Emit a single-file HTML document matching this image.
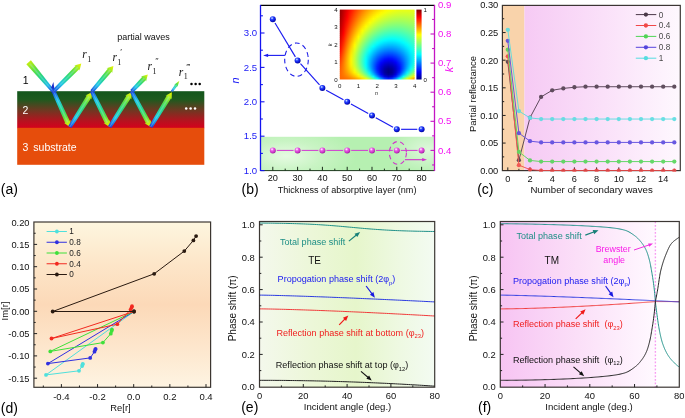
<!DOCTYPE html>
<html><head><meta charset="utf-8"><title>Figure</title>
<style>html,body{margin:0;padding:0;background:#fff}svg{display:block}text{font-family:"Liberation Sans",sans-serif}</style></head><body>
<svg width="685" height="418" viewBox="0 0 685 418">
<defs>
<linearGradient id="lay2" x1="0" y1="0" x2="0" y2="1"><stop offset="0" stop-color="#13561c"/><stop offset="0.22" stop-color="#1d5a1e"/><stop offset="0.5" stop-color="#6a3a22"/><stop offset="0.8" stop-color="#b5131f"/><stop offset="1" stop-color="#d6001c"/></linearGradient>
<radialGradient id="bb" cx="0.38" cy="0.32" r="0.7"><stop offset="0" stop-color="#e8eeff"/><stop offset="0.12" stop-color="#9db4ff"/><stop offset="0.32" stop-color="#2a48ff"/><stop offset="0.7" stop-color="#0a14d8"/><stop offset="1" stop-color="#050a90"/></radialGradient>
<radialGradient id="mb" cx="0.38" cy="0.32" r="0.7"><stop offset="0" stop-color="#fff0ff"/><stop offset="0.14" stop-color="#ffc0ff"/><stop offset="0.36" stop-color="#e860e4"/><stop offset="0.75" stop-color="#cc34c8"/><stop offset="1" stop-color="#9a2098"/></radialGradient>
<radialGradient id="gband" gradientUnits="userSpaceOnUse" cx="286" cy="156" r="70" gradientTransform="translate(286 156) scale(1 0.42) translate(-286 -156)"><stop offset="0" stop-color="#e6fbe2"/><stop offset="0.5" stop-color="#c9f4c4"/><stop offset="1" stop-color="#b6f0b1"/></radialGradient>
<radialGradient id="gband2" gradientUnits="userSpaceOnUse" cx="428" cy="150" r="40" gradientTransform="translate(428 150) scale(1 0.6) translate(-428 -150)"><stop offset="0" stop-color="#fff" stop-opacity="0.55"/><stop offset="1" stop-color="#fff" stop-opacity="0"/></radialGradient>
<linearGradient id="cpink" x1="0" y1="0" x2="1" y2="0"><stop offset="0" stop-color="#f6caf4"/><stop offset="0.5" stop-color="#fae0f9"/><stop offset="1" stop-color="#fef8fe"/></linearGradient>
<linearGradient id="dbg" x1="0" y1="0" x2="0" y2="1"><stop offset="0" stop-color="#fdf6df"/><stop offset="0.25" stop-color="#fde6c9"/><stop offset="0.5" stop-color="#fcd9b8"/><stop offset="0.75" stop-color="#fde6cc"/><stop offset="1" stop-color="#fef4e2"/></linearGradient>
<linearGradient id="ebg" x1="0" y1="0" x2="1" y2="0"><stop offset="0" stop-color="#f4f8ec"/><stop offset="0.3" stop-color="#ecf7d8"/><stop offset="0.55" stop-color="#e6f6cb"/><stop offset="0.8" stop-color="#eef9e2"/><stop offset="1" stop-color="#f3fbf2"/></linearGradient>
<linearGradient id="fbg" x1="0" y1="0" x2="1" y2="0"><stop offset="0" stop-color="#f7c4f3"/><stop offset="0.5" stop-color="#fbdff8"/><stop offset="1" stop-color="#fff9ff"/></linearGradient>
<linearGradient id="jetbar" x1="0" y1="1" x2="0" y2="0"><stop offset="0" stop-color="#00007f"/><stop offset="0.11" stop-color="#0000ff"/><stop offset="0.36" stop-color="#00ffff"/><stop offset="0.5" stop-color="#7fff7f"/><stop offset="0.64" stop-color="#ffff00"/><stop offset="0.89" stop-color="#ff0000"/><stop offset="1" stop-color="#7f0000"/></linearGradient>
</defs>
<rect width="685" height="418" fill="#fff"/>
<g id="pa">
<rect x="17.2" y="91.2" width="187.1" height="37" fill="url(#lay2)"/>
<rect x="17.2" y="127.8" width="187.1" height="37" fill="#e64d0c"/>
<linearGradient id="ag1" gradientUnits="userSpaceOnUse" x1="28.6" y1="62.2" x2="53.2" y2="91.4"><stop offset="0" stop-color="#c4ee10"/><stop offset="0.25" stop-color="#5fe03a"/><stop offset="0.52" stop-color="#22d38a"/><stop offset="0.78" stop-color="#1fbce4"/><stop offset="0.93" stop-color="#1c68e6"/><stop offset="1" stop-color="#1a38d4"/></linearGradient>
<polygon points="26.31,64.13 51.9,92.5 54.5,90.3 30.89,60.27" fill="url(#ag1)"/>
<polygon points="29.2,64.31 52.82,91.72 53.58,91.08 30.58,63.15" fill="#aef4ff" opacity="0.28"/>
<polygon points="53.4,82 54.6,90.5 51.2,87.6" fill="#1a2cc8"/>
<linearGradient id="ag2" gradientUnits="userSpaceOnUse" x1="53.6" y1="91.4" x2="69.8" y2="127"><stop offset="0" stop-color="#1a3ad8"/><stop offset="0.1" stop-color="#1c78e8"/><stop offset="0.27" stop-color="#1fc6e4"/><stop offset="0.5" stop-color="#25d888"/><stop offset="0.72" stop-color="#5fe03c"/><stop offset="0.88" stop-color="#b4ee18"/><stop offset="1" stop-color="#f4f400"/></linearGradient>
<polygon points="51.87,92.19 65.25,123.03 63.82,122.8 69.8,127 70.56,119.73 69.8,120.96 55.33,90.61" fill="url(#ag2)"/>
<polygon points="53.14,91.61 66.91,122.82 68.55,122.08 54.06,91.19" fill="#aef4ff" opacity="0.28"/>
<linearGradient id="ag3" gradientUnits="userSpaceOnUse" x1="69.8" y1="127" x2="91.8" y2="92.2"><stop offset="0" stop-color="#1a3ad8"/><stop offset="0.1" stop-color="#1c78e8"/><stop offset="0.27" stop-color="#1fc6e4"/><stop offset="0.5" stop-color="#25d888"/><stop offset="0.72" stop-color="#5fe03c"/><stop offset="0.88" stop-color="#b4ee18"/><stop offset="1" stop-color="#f4f400"/></linearGradient>
<polygon points="71.41,128.02 90.97,98.18 91.56,99.5 91.8,92.2 85.31,95.55 86.75,95.51 68.19,125.98" fill="url(#ag3)"/>
<polygon points="70.22,127.27 89.89,96.91 88.37,95.95 69.38,126.73" fill="#aef4ff" opacity="0.28"/>
<linearGradient id="ag4" gradientUnits="userSpaceOnUse" x1="91.8" y1="91.4" x2="109.6" y2="127"><stop offset="0" stop-color="#1a3ad8"/><stop offset="0.1" stop-color="#1c78e8"/><stop offset="0.27" stop-color="#1fc6e4"/><stop offset="0.5" stop-color="#25d888"/><stop offset="0.72" stop-color="#5fe03c"/><stop offset="0.88" stop-color="#b4ee18"/><stop offset="1" stop-color="#f4f400"/></linearGradient>
<polygon points="90.1,92.25 104.9,123.2 103.47,123.02 109.6,127 110.09,119.71 109.38,120.96 93.5,90.55" fill="url(#ag4)"/>
<polygon points="91.35,91.62 106.56,122.93 108.17,122.13 92.25,91.18" fill="#aef4ff" opacity="0.28"/>
<linearGradient id="ag5" gradientUnits="userSpaceOnUse" x1="109.6" y1="127" x2="131.6" y2="92.2"><stop offset="0" stop-color="#1a3ad8"/><stop offset="0.1" stop-color="#1c78e8"/><stop offset="0.27" stop-color="#1fc6e4"/><stop offset="0.5" stop-color="#25d888"/><stop offset="0.72" stop-color="#5fe03c"/><stop offset="0.88" stop-color="#b4ee18"/><stop offset="1" stop-color="#f4f400"/></linearGradient>
<polygon points="111.21,128.02 130.77,98.18 131.36,99.5 131.6,92.2 125.11,95.55 126.55,95.51 107.99,125.98" fill="url(#ag5)"/>
<polygon points="110.02,127.27 129.69,96.91 128.17,95.95 109.18,126.73" fill="#aef4ff" opacity="0.28"/>
<linearGradient id="ag6" gradientUnits="userSpaceOnUse" x1="131.6" y1="91.4" x2="150.7" y2="127"><stop offset="0" stop-color="#1a3ad8"/><stop offset="0.1" stop-color="#1c78e8"/><stop offset="0.27" stop-color="#1fc6e4"/><stop offset="0.5" stop-color="#25d888"/><stop offset="0.72" stop-color="#5fe03c"/><stop offset="0.88" stop-color="#b4ee18"/><stop offset="1" stop-color="#f4f400"/></linearGradient>
<polygon points="129.93,92.3 145.9,123.34 144.46,123.2 150.7,127 150.98,119.7 150.3,120.97 133.27,90.5" fill="url(#ag6)"/>
<polygon points="131.16,91.64 147.54,123.02 149.13,122.17 132.04,91.16" fill="#aef4ff" opacity="0.28"/>
<linearGradient id="ag7" gradientUnits="userSpaceOnUse" x1="150.7" y1="127" x2="171.8" y2="92.2"><stop offset="0" stop-color="#1a3ad8"/><stop offset="0.1" stop-color="#1c78e8"/><stop offset="0.27" stop-color="#1fc6e4"/><stop offset="0.5" stop-color="#25d888"/><stop offset="0.72" stop-color="#5fe03c"/><stop offset="0.88" stop-color="#b4ee18"/><stop offset="1" stop-color="#f4f400"/></linearGradient>
<polygon points="152.32,127.99 171.09,98.2 171.7,99.51 171.8,92.2 165.37,95.67 166.81,95.61 149.08,126.01" fill="url(#ag7)"/>
<polygon points="151.13,127.26 169.98,96.94 168.44,96.01 150.27,126.74" fill="#aef4ff" opacity="0.28"/>
<linearGradient id="ag8" gradientUnits="userSpaceOnUse" x1="53.6" y1="91.4" x2="81.3" y2="63.6"><stop offset="0" stop-color="#1a3ad8"/><stop offset="0.1" stop-color="#1c78e8"/><stop offset="0.27" stop-color="#1fc6e4"/><stop offset="0.5" stop-color="#25d888"/><stop offset="0.72" stop-color="#5fe03c"/><stop offset="0.88" stop-color="#b4ee18"/><stop offset="1" stop-color="#f4f400"/></linearGradient>
<polygon points="54.95,92.74 79.19,69.26 79.47,70.67 81.3,63.6 74.23,65.45 75.65,65.73 52.25,90.06" fill="url(#ag8)"/>
<polygon points="53.95,91.75 78.41,67.78 77.13,66.51 53.25,91.05" fill="#aef4ff" opacity="0.28"/>
<linearGradient id="ag9" gradientUnits="userSpaceOnUse" x1="91.8" y1="91.4" x2="113.4" y2="65.9"><stop offset="0" stop-color="#1a3ad8"/><stop offset="0.1" stop-color="#1c78e8"/><stop offset="0.27" stop-color="#1fc6e4"/><stop offset="0.5" stop-color="#25d888"/><stop offset="0.72" stop-color="#5fe03c"/><stop offset="0.88" stop-color="#b4ee18"/><stop offset="1" stop-color="#f4f400"/></linearGradient>
<polygon points="93.25,92.63 111.75,71.71 112.15,73.1 113.4,65.9 106.5,68.32 107.94,68.48 90.35,90.17" fill="url(#ag9)"/>
<polygon points="92.18,91.72 110.86,70.3 109.48,69.13 91.42,91.08" fill="#aef4ff" opacity="0.28"/>
<linearGradient id="ag10" gradientUnits="userSpaceOnUse" x1="131.6" y1="91.4" x2="147.8" y2="74.5"><stop offset="0" stop-color="#1a3ad8"/><stop offset="0.1" stop-color="#1c78e8"/><stop offset="0.27" stop-color="#1fc6e4"/><stop offset="0.5" stop-color="#25d888"/><stop offset="0.72" stop-color="#5fe03c"/><stop offset="0.88" stop-color="#b4ee18"/><stop offset="1" stop-color="#f4f400"/></linearGradient>
<polygon points="132.94,92.68 145.75,80.16 146.05,81.55 147.8,74.5 140.83,76.55 142.23,76.78 130.26,90.12" fill="url(#ag10)"/>
<polygon points="131.96,91.75 144.99,78.73 143.69,77.49 131.24,91.05" fill="#aef4ff" opacity="0.28"/>
<linearGradient id="ag11" gradientUnits="userSpaceOnUse" x1="171.8" y1="91.4" x2="179.4" y2="80.8"><stop offset="0" stop-color="#1a3ad8"/><stop offset="0.1" stop-color="#1c78e8"/><stop offset="0.27" stop-color="#1fc6e4"/><stop offset="0.5" stop-color="#25d888"/><stop offset="0.72" stop-color="#5fe03c"/><stop offset="0.88" stop-color="#b4ee18"/><stop offset="1" stop-color="#f4f400"/></linearGradient>
<polygon points="172.65,92.01 177.33,86.05 177.4,87.09 179.4,80.8 174.09,84.72 175.09,84.45 170.95,90.79" fill="url(#ag11)"/>
<polygon points="172.21,91.69 177.22,85.39 175.76,84.34 171.39,91.11" fill="#aef4ff" opacity="0.28"/>
<text x="22.8" y="84" font-size="10.5" fill="#000" text-anchor="start">1</text>
<text x="22.4" y="114" font-size="10.5" fill="#fff" text-anchor="start">2</text>
<text x="22.4" y="150.8" font-size="10.5" fill="#fff" text-anchor="start" word-spacing="2.2">3 substrate</text>
<text x="117.2" y="40" font-size="9" fill="#111" text-anchor="start">partial waves</text>
<text x="82.3" y="58.3" font-size="11.5" font-style="italic" fill="#111" style="font-family:'Liberation Serif',serif">r<tspan font-size="8" font-style="normal" dx="0.4" dy="3.8">1</tspan><tspan font-size="8.5" dx="-1.6" dy="-9.8"></tspan></text>
<text x="112.4" y="61" font-size="11.5" font-style="italic" fill="#111" style="font-family:'Liberation Serif',serif">r<tspan font-size="8" font-style="normal" dx="0.4" dy="3.8">1</tspan><tspan font-size="8.5" dx="-1.6" dy="-9.8">′</tspan></text>
<text x="147.5" y="70" font-size="11.5" font-style="italic" fill="#111" style="font-family:'Liberation Serif',serif">r<tspan font-size="8" font-style="normal" dx="0.4" dy="3.8">1</tspan><tspan font-size="8.5" dx="-1.6" dy="-9.8">″</tspan></text>
<text x="178.8" y="75.5" font-size="11.5" font-style="italic" fill="#111" style="font-family:'Liberation Serif',serif">r<tspan font-size="8" font-style="normal" dx="0.4" dy="3.8">1</tspan><tspan font-size="8.5" dx="-1.6" dy="-9.8">‴</tspan></text>
<circle cx="191.5" cy="83.9" r="1.25" fill="#000"/>
<circle cx="195.6" cy="83.9" r="1.25" fill="#000"/>
<circle cx="199.7" cy="83.9" r="1.25" fill="#000"/>
<circle cx="186.2" cy="108.6" r="1.25" fill="#fff"/>
<circle cx="190.6" cy="108.6" r="1.25" fill="#fff"/>
<circle cx="195" cy="108.6" r="1.25" fill="#fff"/>
<text x="0.8" y="194" font-size="14" fill="#000" text-anchor="start">(a)</text>
</g>
<g id="pb">
<rect x="260.5" y="136.8" width="174.0" height="33.8" fill="url(#gband)"/>
<rect x="260.5" y="136.8" width="174.0" height="33.8" fill="url(#gband2)"/>
<linearGradient id="h0"><stop offset="0" stop-color="#950000"/><stop offset="0.05" stop-color="#bf0000"/><stop offset="0.1" stop-color="#ea0000"/><stop offset="0.15" stop-color="#ff1400"/><stop offset="0.2" stop-color="#ff3900"/><stop offset="0.25" stop-color="#ff5c00"/><stop offset="0.3" stop-color="#ff7b00"/><stop offset="0.35" stop-color="#ff9700"/><stop offset="0.4" stop-color="#ffb100"/><stop offset="0.45" stop-color="#ffc700"/><stop offset="0.5" stop-color="#ffda00"/><stop offset="0.55" stop-color="#ffeb00"/><stop offset="0.6" stop-color="#fff900"/><stop offset="0.65" stop-color="#faff05"/><stop offset="0.7" stop-color="#f2ff0d"/><stop offset="0.75" stop-color="#ebff14"/><stop offset="0.8" stop-color="#e7ff18"/><stop offset="0.85" stop-color="#e5ff1a"/><stop offset="0.9" stop-color="#e5ff1a"/><stop offset="0.95" stop-color="#e6ff19"/><stop offset="1" stop-color="#e8ff17"/></linearGradient>
<rect x="339.8" y="9.6" width="74.8" height="2.5" fill="url(#h0)"/>
<linearGradient id="h1"><stop offset="0" stop-color="#970000"/><stop offset="0.05" stop-color="#c30000"/><stop offset="0.1" stop-color="#f00000"/><stop offset="0.15" stop-color="#ff1b00"/><stop offset="0.2" stop-color="#ff4200"/><stop offset="0.25" stop-color="#ff6500"/><stop offset="0.3" stop-color="#ff8600"/><stop offset="0.35" stop-color="#ffa300"/><stop offset="0.4" stop-color="#ffbd00"/><stop offset="0.45" stop-color="#ffd400"/><stop offset="0.5" stop-color="#ffe700"/><stop offset="0.55" stop-color="#fff800"/><stop offset="0.6" stop-color="#f8ff07"/><stop offset="0.65" stop-color="#edff12"/><stop offset="0.7" stop-color="#e5ff1a"/><stop offset="0.75" stop-color="#dfff20"/><stop offset="0.8" stop-color="#dbff24"/><stop offset="0.85" stop-color="#daff25"/><stop offset="0.9" stop-color="#daff25"/><stop offset="0.95" stop-color="#dcff23"/><stop offset="1" stop-color="#dfff20"/></linearGradient>
<rect x="339.8" y="11.6" width="74.8" height="2.5" fill="url(#h1)"/>
<linearGradient id="h2"><stop offset="0" stop-color="#990000"/><stop offset="0.05" stop-color="#c70000"/><stop offset="0.1" stop-color="#f60000"/><stop offset="0.15" stop-color="#ff2300"/><stop offset="0.2" stop-color="#ff4b00"/><stop offset="0.25" stop-color="#ff7000"/><stop offset="0.3" stop-color="#ff9100"/><stop offset="0.35" stop-color="#ffaf00"/><stop offset="0.4" stop-color="#ffca00"/><stop offset="0.45" stop-color="#ffe100"/><stop offset="0.5" stop-color="#fff500"/><stop offset="0.55" stop-color="#f8ff07"/><stop offset="0.6" stop-color="#eaff15"/><stop offset="0.65" stop-color="#dfff20"/><stop offset="0.7" stop-color="#d7ff28"/><stop offset="0.75" stop-color="#d2ff2d"/><stop offset="0.8" stop-color="#cfff30"/><stop offset="0.85" stop-color="#ceff31"/><stop offset="0.9" stop-color="#cfff30"/><stop offset="0.95" stop-color="#d1ff2e"/><stop offset="1" stop-color="#d5ff2a"/></linearGradient>
<rect x="339.8" y="13.59" width="74.8" height="2.5" fill="url(#h2)"/>
<linearGradient id="h3"><stop offset="0" stop-color="#9c0000"/><stop offset="0.05" stop-color="#cb0000"/><stop offset="0.1" stop-color="#fc0000"/><stop offset="0.15" stop-color="#ff2b00"/><stop offset="0.2" stop-color="#ff5400"/><stop offset="0.25" stop-color="#ff7a00"/><stop offset="0.3" stop-color="#ff9d00"/><stop offset="0.35" stop-color="#ffbb00"/><stop offset="0.4" stop-color="#ffd700"/><stop offset="0.45" stop-color="#ffef00"/><stop offset="0.5" stop-color="#fbff04"/><stop offset="0.55" stop-color="#eaff15"/><stop offset="0.6" stop-color="#dcff23"/><stop offset="0.65" stop-color="#d1ff2e"/><stop offset="0.7" stop-color="#c9ff36"/><stop offset="0.75" stop-color="#c4ff3b"/><stop offset="0.8" stop-color="#c2ff3d"/><stop offset="0.85" stop-color="#c1ff3e"/><stop offset="0.9" stop-color="#c3ff3c"/><stop offset="0.95" stop-color="#c6ff39"/><stop offset="1" stop-color="#cbff34"/></linearGradient>
<rect x="339.8" y="15.59" width="74.8" height="2.5" fill="url(#h3)"/>
<linearGradient id="h4"><stop offset="0" stop-color="#9f0000"/><stop offset="0.05" stop-color="#d00000"/><stop offset="0.1" stop-color="#ff0400"/><stop offset="0.15" stop-color="#ff3300"/><stop offset="0.2" stop-color="#ff5e00"/><stop offset="0.25" stop-color="#ff8500"/><stop offset="0.3" stop-color="#ffa900"/><stop offset="0.35" stop-color="#ffc800"/><stop offset="0.4" stop-color="#ffe500"/><stop offset="0.45" stop-color="#fffd00"/><stop offset="0.5" stop-color="#ecff13"/><stop offset="0.55" stop-color="#dbff24"/><stop offset="0.6" stop-color="#cdff32"/><stop offset="0.65" stop-color="#c2ff3d"/><stop offset="0.7" stop-color="#bbff44"/><stop offset="0.75" stop-color="#b6ff49"/><stop offset="0.8" stop-color="#b4ff4b"/><stop offset="0.85" stop-color="#b5ff4a"/><stop offset="0.9" stop-color="#b7ff48"/><stop offset="0.95" stop-color="#bcff43"/><stop offset="1" stop-color="#c1ff3e"/></linearGradient>
<rect x="339.8" y="17.59" width="74.8" height="2.5" fill="url(#h4)"/>
<linearGradient id="h5"><stop offset="0" stop-color="#a20000"/><stop offset="0.05" stop-color="#d50000"/><stop offset="0.1" stop-color="#ff0b00"/><stop offset="0.15" stop-color="#ff3c00"/><stop offset="0.2" stop-color="#ff6800"/><stop offset="0.25" stop-color="#ff9100"/><stop offset="0.3" stop-color="#ffb500"/><stop offset="0.35" stop-color="#ffd600"/><stop offset="0.4" stop-color="#fff300"/><stop offset="0.45" stop-color="#f2ff0d"/><stop offset="0.5" stop-color="#ddff22"/><stop offset="0.55" stop-color="#cbff34"/><stop offset="0.6" stop-color="#bdff42"/><stop offset="0.65" stop-color="#b3ff4c"/><stop offset="0.7" stop-color="#acff53"/><stop offset="0.75" stop-color="#a8ff57"/><stop offset="0.8" stop-color="#a6ff59"/><stop offset="0.85" stop-color="#a8ff57"/><stop offset="0.9" stop-color="#abff54"/><stop offset="0.95" stop-color="#b0ff4f"/><stop offset="1" stop-color="#b7ff48"/></linearGradient>
<rect x="339.8" y="19.59" width="74.8" height="2.5" fill="url(#h5)"/>
<linearGradient id="h6"><stop offset="0" stop-color="#a50000"/><stop offset="0.05" stop-color="#db0000"/><stop offset="0.1" stop-color="#ff1300"/><stop offset="0.15" stop-color="#ff4500"/><stop offset="0.2" stop-color="#ff7300"/><stop offset="0.25" stop-color="#ff9d00"/><stop offset="0.3" stop-color="#ffc300"/><stop offset="0.35" stop-color="#ffe400"/><stop offset="0.4" stop-color="#fcff03"/><stop offset="0.45" stop-color="#e3ff1c"/><stop offset="0.5" stop-color="#cdff32"/><stop offset="0.55" stop-color="#bbff44"/><stop offset="0.6" stop-color="#adff52"/><stop offset="0.65" stop-color="#a3ff5c"/><stop offset="0.7" stop-color="#9cff63"/><stop offset="0.75" stop-color="#99ff66"/><stop offset="0.8" stop-color="#98ff67"/><stop offset="0.85" stop-color="#9aff65"/><stop offset="0.9" stop-color="#9fff60"/><stop offset="0.95" stop-color="#a5ff5a"/><stop offset="1" stop-color="#adff52"/></linearGradient>
<rect x="339.8" y="21.58" width="74.8" height="2.5" fill="url(#h6)"/>
<linearGradient id="h7"><stop offset="0" stop-color="#a90000"/><stop offset="0.05" stop-color="#e10000"/><stop offset="0.1" stop-color="#ff1b00"/><stop offset="0.15" stop-color="#ff4f00"/><stop offset="0.2" stop-color="#ff7e00"/><stop offset="0.25" stop-color="#ffa900"/><stop offset="0.3" stop-color="#ffd000"/><stop offset="0.35" stop-color="#fff300"/><stop offset="0.4" stop-color="#edff12"/><stop offset="0.45" stop-color="#d3ff2c"/><stop offset="0.5" stop-color="#bcff43"/><stop offset="0.55" stop-color="#aaff55"/><stop offset="0.6" stop-color="#9cff63"/><stop offset="0.65" stop-color="#92ff6d"/><stop offset="0.7" stop-color="#8cff73"/><stop offset="0.75" stop-color="#89ff76"/><stop offset="0.8" stop-color="#89ff76"/><stop offset="0.85" stop-color="#8cff73"/><stop offset="0.9" stop-color="#92ff6d"/><stop offset="0.95" stop-color="#99ff66"/><stop offset="1" stop-color="#a2ff5d"/></linearGradient>
<rect x="339.8" y="23.58" width="74.8" height="2.5" fill="url(#h7)"/>
<linearGradient id="h8"><stop offset="0" stop-color="#ae0000"/><stop offset="0.05" stop-color="#e70000"/><stop offset="0.1" stop-color="#ff2300"/><stop offset="0.15" stop-color="#ff5900"/><stop offset="0.2" stop-color="#ff8a00"/><stop offset="0.25" stop-color="#ffb600"/><stop offset="0.3" stop-color="#ffde00"/><stop offset="0.35" stop-color="#fcff03"/><stop offset="0.4" stop-color="#ddff22"/><stop offset="0.45" stop-color="#c2ff3d"/><stop offset="0.5" stop-color="#abff54"/><stop offset="0.55" stop-color="#99ff66"/><stop offset="0.6" stop-color="#8bff74"/><stop offset="0.65" stop-color="#81ff7e"/><stop offset="0.7" stop-color="#7bff84"/><stop offset="0.75" stop-color="#79ff86"/><stop offset="0.8" stop-color="#7aff85"/><stop offset="0.85" stop-color="#7eff81"/><stop offset="0.9" stop-color="#85ff7a"/><stop offset="0.95" stop-color="#8dff72"/><stop offset="1" stop-color="#98ff67"/></linearGradient>
<rect x="339.8" y="25.58" width="74.8" height="2.5" fill="url(#h8)"/>
<linearGradient id="h9"><stop offset="0" stop-color="#b20000"/><stop offset="0.05" stop-color="#ee0000"/><stop offset="0.1" stop-color="#ff2c00"/><stop offset="0.15" stop-color="#ff6300"/><stop offset="0.2" stop-color="#ff9600"/><stop offset="0.25" stop-color="#ffc300"/><stop offset="0.3" stop-color="#ffed00"/><stop offset="0.35" stop-color="#edff12"/><stop offset="0.4" stop-color="#ccff33"/><stop offset="0.45" stop-color="#b1ff4e"/><stop offset="0.5" stop-color="#99ff66"/><stop offset="0.55" stop-color="#87ff78"/><stop offset="0.6" stop-color="#79ff86"/><stop offset="0.65" stop-color="#6fff90"/><stop offset="0.7" stop-color="#6aff95"/><stop offset="0.75" stop-color="#68ff97"/><stop offset="0.8" stop-color="#6aff95"/><stop offset="0.85" stop-color="#6fff90"/><stop offset="0.9" stop-color="#77ff88"/><stop offset="0.95" stop-color="#81ff7e"/><stop offset="1" stop-color="#8dff72"/></linearGradient>
<rect x="339.8" y="27.57" width="74.8" height="2.5" fill="url(#h9)"/>
<linearGradient id="h10"><stop offset="0" stop-color="#b70000"/><stop offset="0.05" stop-color="#f50000"/><stop offset="0.1" stop-color="#ff3500"/><stop offset="0.15" stop-color="#ff6e00"/><stop offset="0.2" stop-color="#ffa200"/><stop offset="0.25" stop-color="#ffd100"/><stop offset="0.3" stop-color="#fffc00"/><stop offset="0.35" stop-color="#ddff22"/><stop offset="0.4" stop-color="#bbff44"/><stop offset="0.45" stop-color="#9fff60"/><stop offset="0.5" stop-color="#87ff78"/><stop offset="0.55" stop-color="#74ff8b"/><stop offset="0.6" stop-color="#66ff99"/><stop offset="0.65" stop-color="#5cffa3"/><stop offset="0.7" stop-color="#57ffa8"/><stop offset="0.75" stop-color="#57ffa8"/><stop offset="0.8" stop-color="#5affa5"/><stop offset="0.85" stop-color="#60ff9f"/><stop offset="0.9" stop-color="#6aff95"/><stop offset="0.95" stop-color="#75ff8a"/><stop offset="1" stop-color="#82ff7d"/></linearGradient>
<rect x="339.8" y="29.57" width="74.8" height="2.5" fill="url(#h10)"/>
<linearGradient id="h11"><stop offset="0" stop-color="#bd0000"/><stop offset="0.05" stop-color="#fc0000"/><stop offset="0.1" stop-color="#ff3e00"/><stop offset="0.15" stop-color="#ff7900"/><stop offset="0.2" stop-color="#ffae00"/><stop offset="0.25" stop-color="#ffdf00"/><stop offset="0.3" stop-color="#f3ff0c"/><stop offset="0.35" stop-color="#ccff33"/><stop offset="0.4" stop-color="#aaff55"/><stop offset="0.45" stop-color="#8dff72"/><stop offset="0.5" stop-color="#74ff8b"/><stop offset="0.55" stop-color="#61ff9e"/><stop offset="0.6" stop-color="#52ffad"/><stop offset="0.65" stop-color="#49ffb6"/><stop offset="0.7" stop-color="#45ffba"/><stop offset="0.75" stop-color="#45ffba"/><stop offset="0.8" stop-color="#49ffb6"/><stop offset="0.85" stop-color="#51ffae"/><stop offset="0.9" stop-color="#5cffa3"/><stop offset="0.95" stop-color="#69ff96"/><stop offset="1" stop-color="#78ff87"/></linearGradient>
<rect x="339.8" y="31.57" width="74.8" height="2.5" fill="url(#h11)"/>
<linearGradient id="h12"><stop offset="0" stop-color="#c30000"/><stop offset="0.05" stop-color="#ff0500"/><stop offset="0.1" stop-color="#ff4800"/><stop offset="0.15" stop-color="#ff8400"/><stop offset="0.2" stop-color="#ffbb00"/><stop offset="0.25" stop-color="#ffed00"/><stop offset="0.3" stop-color="#e4ff1b"/><stop offset="0.35" stop-color="#bbff44"/><stop offset="0.4" stop-color="#98ff67"/><stop offset="0.45" stop-color="#7aff85"/><stop offset="0.5" stop-color="#61ff9e"/><stop offset="0.55" stop-color="#4dffb2"/><stop offset="0.6" stop-color="#3effc1"/><stop offset="0.65" stop-color="#35ffca"/><stop offset="0.7" stop-color="#31ffce"/><stop offset="0.75" stop-color="#32ffcd"/><stop offset="0.8" stop-color="#38ffc7"/><stop offset="0.85" stop-color="#41ffbe"/><stop offset="0.9" stop-color="#4dffb2"/><stop offset="0.95" stop-color="#5cffa3"/><stop offset="1" stop-color="#6dff92"/></linearGradient>
<rect x="339.8" y="33.57" width="74.8" height="2.5" fill="url(#h12)"/>
<linearGradient id="h13"><stop offset="0" stop-color="#c90000"/><stop offset="0.05" stop-color="#ff0e00"/><stop offset="0.1" stop-color="#ff5200"/><stop offset="0.15" stop-color="#ff8f00"/><stop offset="0.2" stop-color="#ffc800"/><stop offset="0.25" stop-color="#fffb00"/><stop offset="0.3" stop-color="#d4ff2b"/><stop offset="0.35" stop-color="#aaff55"/><stop offset="0.4" stop-color="#86ff79"/><stop offset="0.45" stop-color="#66ff99"/><stop offset="0.5" stop-color="#4cffb3"/><stop offset="0.55" stop-color="#38ffc7"/><stop offset="0.6" stop-color="#29ffd6"/><stop offset="0.65" stop-color="#21ffde"/><stop offset="0.7" stop-color="#1dffe2"/><stop offset="0.75" stop-color="#1fffe0"/><stop offset="0.8" stop-color="#26ffd9"/><stop offset="0.85" stop-color="#31ffce"/><stop offset="0.9" stop-color="#3fffc0"/><stop offset="0.95" stop-color="#50ffaf"/><stop offset="1" stop-color="#62ff9d"/></linearGradient>
<rect x="339.8" y="35.56" width="74.8" height="2.5" fill="url(#h13)"/>
<linearGradient id="h14"><stop offset="0" stop-color="#d00000"/><stop offset="0.05" stop-color="#ff1600"/><stop offset="0.1" stop-color="#ff5c00"/><stop offset="0.15" stop-color="#ff9b00"/><stop offset="0.2" stop-color="#ffd500"/><stop offset="0.25" stop-color="#f4ff0b"/><stop offset="0.3" stop-color="#c4ff3b"/><stop offset="0.35" stop-color="#99ff66"/><stop offset="0.4" stop-color="#73ff8c"/><stop offset="0.45" stop-color="#53ffac"/><stop offset="0.5" stop-color="#38ffc7"/><stop offset="0.55" stop-color="#23ffdc"/><stop offset="0.6" stop-color="#14ffeb"/><stop offset="0.65" stop-color="#0bfff4"/><stop offset="0.7" stop-color="#08fff7"/><stop offset="0.75" stop-color="#0cfff3"/><stop offset="0.8" stop-color="#14ffeb"/><stop offset="0.85" stop-color="#20ffdf"/><stop offset="0.9" stop-color="#30ffcf"/><stop offset="0.95" stop-color="#43ffbc"/><stop offset="1" stop-color="#58ffa7"/></linearGradient>
<rect x="339.8" y="37.56" width="74.8" height="2.5" fill="url(#h14)"/>
<linearGradient id="h15"><stop offset="0" stop-color="#d80000"/><stop offset="0.05" stop-color="#ff1f00"/><stop offset="0.1" stop-color="#ff6600"/><stop offset="0.15" stop-color="#ffa600"/><stop offset="0.2" stop-color="#ffe200"/><stop offset="0.25" stop-color="#e6ff19"/><stop offset="0.3" stop-color="#b5ff4a"/><stop offset="0.35" stop-color="#88ff77"/><stop offset="0.4" stop-color="#61ff9e"/><stop offset="0.45" stop-color="#3fffc0"/><stop offset="0.5" stop-color="#22ffdd"/><stop offset="0.55" stop-color="#0dfff2"/><stop offset="0.6" stop-color="#00fcff"/><stop offset="0.65" stop-color="#00f4ff"/><stop offset="0.7" stop-color="#00f2ff"/><stop offset="0.75" stop-color="#00f6ff"/><stop offset="0.8" stop-color="#01fffe"/><stop offset="0.85" stop-color="#0ffff0"/><stop offset="0.9" stop-color="#22ffdd"/><stop offset="0.95" stop-color="#37ffc8"/><stop offset="1" stop-color="#4dffb2"/></linearGradient>
<rect x="339.8" y="39.56" width="74.8" height="2.5" fill="url(#h15)"/>
<linearGradient id="h16"><stop offset="0" stop-color="#e00000"/><stop offset="0.05" stop-color="#ff2800"/><stop offset="0.1" stop-color="#ff7000"/><stop offset="0.15" stop-color="#ffb200"/><stop offset="0.2" stop-color="#ffee00"/><stop offset="0.25" stop-color="#d8ff27"/><stop offset="0.3" stop-color="#a5ff5a"/><stop offset="0.35" stop-color="#77ff88"/><stop offset="0.4" stop-color="#4effb1"/><stop offset="0.45" stop-color="#2affd5"/><stop offset="0.5" stop-color="#0dfff2"/><stop offset="0.55" stop-color="#00f5ff"/><stop offset="0.6" stop-color="#00e5ff"/><stop offset="0.65" stop-color="#00ddff"/><stop offset="0.7" stop-color="#00dcff"/><stop offset="0.75" stop-color="#00e1ff"/><stop offset="0.8" stop-color="#00edff"/><stop offset="0.85" stop-color="#00fdff"/><stop offset="0.9" stop-color="#13ffec"/><stop offset="0.95" stop-color="#2affd5"/><stop offset="1" stop-color="#44ffbb"/></linearGradient>
<rect x="339.8" y="41.55" width="74.8" height="2.5" fill="url(#h16)"/>
<linearGradient id="h17"><stop offset="0" stop-color="#e80000"/><stop offset="0.05" stop-color="#ff3100"/><stop offset="0.1" stop-color="#ff7a00"/><stop offset="0.15" stop-color="#ffbd00"/><stop offset="0.2" stop-color="#fffa00"/><stop offset="0.25" stop-color="#caff35"/><stop offset="0.3" stop-color="#96ff69"/><stop offset="0.35" stop-color="#66ff99"/><stop offset="0.4" stop-color="#3bffc4"/><stop offset="0.45" stop-color="#16ffe9"/><stop offset="0.5" stop-color="#00f6ff"/><stop offset="0.55" stop-color="#00deff"/><stop offset="0.6" stop-color="#00ceff"/><stop offset="0.65" stop-color="#00c5ff"/><stop offset="0.7" stop-color="#00c5ff"/><stop offset="0.75" stop-color="#00ccff"/><stop offset="0.8" stop-color="#00d9ff"/><stop offset="0.85" stop-color="#00ecff"/><stop offset="0.9" stop-color="#04fffb"/><stop offset="0.95" stop-color="#1effe1"/><stop offset="1" stop-color="#3affc5"/></linearGradient>
<rect x="339.8" y="43.55" width="74.8" height="2.5" fill="url(#h17)"/>
<linearGradient id="h18"><stop offset="0" stop-color="#f10000"/><stop offset="0.05" stop-color="#ff3a00"/><stop offset="0.1" stop-color="#ff8400"/><stop offset="0.15" stop-color="#ffc700"/><stop offset="0.2" stop-color="#f8ff07"/><stop offset="0.25" stop-color="#bdff42"/><stop offset="0.3" stop-color="#87ff78"/><stop offset="0.35" stop-color="#55ffaa"/><stop offset="0.4" stop-color="#28ffd7"/><stop offset="0.45" stop-color="#01fffe"/><stop offset="0.5" stop-color="#00dfff"/><stop offset="0.55" stop-color="#00c6ff"/><stop offset="0.6" stop-color="#00b5ff"/><stop offset="0.65" stop-color="#00adff"/><stop offset="0.7" stop-color="#00adff"/><stop offset="0.75" stop-color="#00b5ff"/><stop offset="0.8" stop-color="#00c5ff"/><stop offset="0.85" stop-color="#00daff"/><stop offset="0.9" stop-color="#00f4ff"/><stop offset="0.95" stop-color="#12ffed"/><stop offset="1" stop-color="#31ffce"/></linearGradient>
<rect x="339.8" y="45.55" width="74.8" height="2.5" fill="url(#h18)"/>
<linearGradient id="h19"><stop offset="0" stop-color="#fa0000"/><stop offset="0.05" stop-color="#ff4400"/><stop offset="0.1" stop-color="#ff8d00"/><stop offset="0.15" stop-color="#ffd100"/><stop offset="0.2" stop-color="#edff12"/><stop offset="0.25" stop-color="#b1ff4e"/><stop offset="0.3" stop-color="#79ff86"/><stop offset="0.35" stop-color="#45ffba"/><stop offset="0.4" stop-color="#16ffe9"/><stop offset="0.45" stop-color="#00ebff"/><stop offset="0.5" stop-color="#00c9ff"/><stop offset="0.55" stop-color="#00aeff"/><stop offset="0.6" stop-color="#009cff"/><stop offset="0.65" stop-color="#0094ff"/><stop offset="0.7" stop-color="#0095ff"/><stop offset="0.75" stop-color="#009fff"/><stop offset="0.8" stop-color="#00b0ff"/><stop offset="0.85" stop-color="#00c9ff"/><stop offset="0.9" stop-color="#00e6ff"/><stop offset="0.95" stop-color="#07fff8"/><stop offset="1" stop-color="#29ffd6"/></linearGradient>
<rect x="339.8" y="47.55" width="74.8" height="2.5" fill="url(#h19)"/>
<linearGradient id="h20"><stop offset="0" stop-color="#ff0500"/><stop offset="0.05" stop-color="#ff4d00"/><stop offset="0.1" stop-color="#ff9600"/><stop offset="0.15" stop-color="#ffdb00"/><stop offset="0.2" stop-color="#e3ff1c"/><stop offset="0.25" stop-color="#a6ff59"/><stop offset="0.3" stop-color="#6cff93"/><stop offset="0.35" stop-color="#35ffca"/><stop offset="0.4" stop-color="#04fffb"/><stop offset="0.45" stop-color="#00d7ff"/><stop offset="0.5" stop-color="#00b2ff"/><stop offset="0.55" stop-color="#0095ff"/><stop offset="0.6" stop-color="#0083ff"/><stop offset="0.65" stop-color="#007aff"/><stop offset="0.7" stop-color="#007cff"/><stop offset="0.75" stop-color="#0087ff"/><stop offset="0.8" stop-color="#009cff"/><stop offset="0.85" stop-color="#00b7ff"/><stop offset="0.9" stop-color="#00d8ff"/><stop offset="0.95" stop-color="#00fbff"/><stop offset="1" stop-color="#22ffdd"/></linearGradient>
<rect x="339.8" y="49.54" width="74.8" height="2.5" fill="url(#h20)"/>
<linearGradient id="h21"><stop offset="0" stop-color="#ff0f00"/><stop offset="0.05" stop-color="#ff5500"/><stop offset="0.1" stop-color="#ff9e00"/><stop offset="0.15" stop-color="#ffe300"/><stop offset="0.2" stop-color="#daff25"/><stop offset="0.25" stop-color="#9bff64"/><stop offset="0.3" stop-color="#60ff9f"/><stop offset="0.35" stop-color="#27ffd8"/><stop offset="0.4" stop-color="#00f2ff"/><stop offset="0.45" stop-color="#00c3ff"/><stop offset="0.5" stop-color="#009bff"/><stop offset="0.55" stop-color="#007dff"/><stop offset="0.6" stop-color="#0068ff"/><stop offset="0.65" stop-color="#005fff"/><stop offset="0.7" stop-color="#0062ff"/><stop offset="0.75" stop-color="#0070ff"/><stop offset="0.8" stop-color="#0087ff"/><stop offset="0.85" stop-color="#00a6ff"/><stop offset="0.9" stop-color="#00caff"/><stop offset="0.95" stop-color="#00f2ff"/><stop offset="1" stop-color="#1cffe3"/></linearGradient>
<rect x="339.8" y="51.54" width="74.8" height="2.5" fill="url(#h21)"/>
<linearGradient id="h22"><stop offset="0" stop-color="#ff1900"/><stop offset="0.05" stop-color="#ff5e00"/><stop offset="0.1" stop-color="#ffa600"/><stop offset="0.15" stop-color="#ffea00"/><stop offset="0.2" stop-color="#d3ff2c"/><stop offset="0.25" stop-color="#93ff6c"/><stop offset="0.3" stop-color="#55ffaa"/><stop offset="0.35" stop-color="#1affe5"/><stop offset="0.4" stop-color="#00e2ff"/><stop offset="0.45" stop-color="#00b0ff"/><stop offset="0.5" stop-color="#0085ff"/><stop offset="0.55" stop-color="#0064ff"/><stop offset="0.6" stop-color="#004eff"/><stop offset="0.65" stop-color="#0044ff"/><stop offset="0.7" stop-color="#0048ff"/><stop offset="0.75" stop-color="#0058ff"/><stop offset="0.8" stop-color="#0072ff"/><stop offset="0.85" stop-color="#0095ff"/><stop offset="0.9" stop-color="#00beff"/><stop offset="0.95" stop-color="#00e9ff"/><stop offset="1" stop-color="#17ffe8"/></linearGradient>
<rect x="339.8" y="53.54" width="74.8" height="2.5" fill="url(#h22)"/>
<linearGradient id="h23"><stop offset="0" stop-color="#ff2200"/><stop offset="0.05" stop-color="#ff6600"/><stop offset="0.1" stop-color="#ffac00"/><stop offset="0.15" stop-color="#ffef00"/><stop offset="0.2" stop-color="#cdff32"/><stop offset="0.25" stop-color="#8cff73"/><stop offset="0.3" stop-color="#4dffb2"/><stop offset="0.35" stop-color="#0ffff0"/><stop offset="0.4" stop-color="#00d3ff"/><stop offset="0.45" stop-color="#009eff"/><stop offset="0.5" stop-color="#006fff"/><stop offset="0.55" stop-color="#004bff"/><stop offset="0.6" stop-color="#0033ff"/><stop offset="0.65" stop-color="#0029ff"/><stop offset="0.7" stop-color="#002dff"/><stop offset="0.75" stop-color="#0040ff"/><stop offset="0.8" stop-color="#005eff"/><stop offset="0.85" stop-color="#0085ff"/><stop offset="0.9" stop-color="#00b2ff"/><stop offset="0.95" stop-color="#00e3ff"/><stop offset="1" stop-color="#15ffea"/></linearGradient>
<rect x="339.8" y="55.53" width="74.8" height="2.5" fill="url(#h23)"/>
<linearGradient id="h24"><stop offset="0" stop-color="#ff2c00"/><stop offset="0.05" stop-color="#ff6d00"/><stop offset="0.1" stop-color="#ffb100"/><stop offset="0.15" stop-color="#fff300"/><stop offset="0.2" stop-color="#c9ff36"/><stop offset="0.25" stop-color="#88ff77"/><stop offset="0.3" stop-color="#47ffb8"/><stop offset="0.35" stop-color="#06fff9"/><stop offset="0.4" stop-color="#00c7ff"/><stop offset="0.45" stop-color="#008dff"/><stop offset="0.5" stop-color="#005bff"/><stop offset="0.55" stop-color="#0033ff"/><stop offset="0.6" stop-color="#0018ff"/><stop offset="0.65" stop-color="#000dff"/><stop offset="0.7" stop-color="#0013ff"/><stop offset="0.75" stop-color="#0028ff"/><stop offset="0.8" stop-color="#004aff"/><stop offset="0.85" stop-color="#0077ff"/><stop offset="0.9" stop-color="#00a9ff"/><stop offset="0.95" stop-color="#00deff"/><stop offset="1" stop-color="#14ffeb"/></linearGradient>
<rect x="339.8" y="57.53" width="74.8" height="2.5" fill="url(#h24)"/>
<linearGradient id="h25"><stop offset="0" stop-color="#ff3600"/><stop offset="0.05" stop-color="#ff7300"/><stop offset="0.1" stop-color="#ffb400"/><stop offset="0.15" stop-color="#fff500"/><stop offset="0.2" stop-color="#c8ff37"/><stop offset="0.25" stop-color="#86ff79"/><stop offset="0.3" stop-color="#43ffbc"/><stop offset="0.35" stop-color="#00ffff"/><stop offset="0.4" stop-color="#00bdff"/><stop offset="0.45" stop-color="#007fff"/><stop offset="0.5" stop-color="#0048ff"/><stop offset="0.55" stop-color="#001bff"/><stop offset="0.6" stop-color="#0000fd"/><stop offset="0.65" stop-color="#0000f0"/><stop offset="0.7" stop-color="#0000f7"/><stop offset="0.75" stop-color="#0010ff"/><stop offset="0.8" stop-color="#0038ff"/><stop offset="0.85" stop-color="#006aff"/><stop offset="0.9" stop-color="#00a2ff"/><stop offset="0.95" stop-color="#00ddff"/><stop offset="1" stop-color="#17ffe8"/></linearGradient>
<rect x="339.8" y="59.53" width="74.8" height="2.5" fill="url(#h25)"/>
<linearGradient id="h26"><stop offset="0" stop-color="#ff3f00"/><stop offset="0.05" stop-color="#ff7800"/><stop offset="0.1" stop-color="#ffb600"/><stop offset="0.15" stop-color="#fff400"/><stop offset="0.2" stop-color="#caff35"/><stop offset="0.25" stop-color="#88ff77"/><stop offset="0.3" stop-color="#43ffbc"/><stop offset="0.35" stop-color="#00fdff"/><stop offset="0.4" stop-color="#00b7ff"/><stop offset="0.45" stop-color="#0073ff"/><stop offset="0.5" stop-color="#0037ff"/><stop offset="0.55" stop-color="#0005ff"/><stop offset="0.6" stop-color="#0000e3"/><stop offset="0.65" stop-color="#0000d5"/><stop offset="0.7" stop-color="#0000dd"/><stop offset="0.75" stop-color="#0000f9"/><stop offset="0.8" stop-color="#0027ff"/><stop offset="0.85" stop-color="#005fff"/><stop offset="0.9" stop-color="#009eff"/><stop offset="0.95" stop-color="#00dfff"/><stop offset="1" stop-color="#1effe1"/></linearGradient>
<rect x="339.8" y="61.53" width="74.8" height="2.5" fill="url(#h26)"/>
<linearGradient id="h27"><stop offset="0" stop-color="#ff4700"/><stop offset="0.05" stop-color="#ff7c00"/><stop offset="0.1" stop-color="#ffb600"/><stop offset="0.15" stop-color="#fff200"/><stop offset="0.2" stop-color="#ceff31"/><stop offset="0.25" stop-color="#8dff72"/><stop offset="0.3" stop-color="#48ffb7"/><stop offset="0.35" stop-color="#00feff"/><stop offset="0.4" stop-color="#00b4ff"/><stop offset="0.45" stop-color="#006cff"/><stop offset="0.5" stop-color="#0029ff"/><stop offset="0.55" stop-color="#0000f1"/><stop offset="0.6" stop-color="#0000cb"/><stop offset="0.65" stop-color="#0000bc"/><stop offset="0.7" stop-color="#0000c5"/><stop offset="0.75" stop-color="#0000e5"/><stop offset="0.8" stop-color="#0019ff"/><stop offset="0.85" stop-color="#0059ff"/><stop offset="0.9" stop-color="#009fff"/><stop offset="0.95" stop-color="#00e5ff"/><stop offset="1" stop-color="#29ffd6"/></linearGradient>
<rect x="339.8" y="63.52" width="74.8" height="2.5" fill="url(#h27)"/>
<linearGradient id="h28"><stop offset="0" stop-color="#ff4f00"/><stop offset="0.05" stop-color="#ff7e00"/><stop offset="0.1" stop-color="#ffb400"/><stop offset="0.15" stop-color="#ffec00"/><stop offset="0.2" stop-color="#d6ff29"/><stop offset="0.25" stop-color="#96ff69"/><stop offset="0.3" stop-color="#51ffae"/><stop offset="0.35" stop-color="#06fff9"/><stop offset="0.4" stop-color="#00b8ff"/><stop offset="0.45" stop-color="#006aff"/><stop offset="0.5" stop-color="#0020ff"/><stop offset="0.55" stop-color="#0000e1"/><stop offset="0.6" stop-color="#0000b6"/><stop offset="0.65" stop-color="#0000a4"/><stop offset="0.7" stop-color="#0000af"/><stop offset="0.75" stop-color="#0000d4"/><stop offset="0.8" stop-color="#0010ff"/><stop offset="0.85" stop-color="#0058ff"/><stop offset="0.9" stop-color="#00a5ff"/><stop offset="0.95" stop-color="#00f1ff"/><stop offset="1" stop-color="#3affc5"/></linearGradient>
<rect x="339.8" y="65.52" width="74.8" height="2.5" fill="url(#h28)"/>
<linearGradient id="h29"><stop offset="0" stop-color="#ff5600"/><stop offset="0.05" stop-color="#ff7f00"/><stop offset="0.1" stop-color="#ffb000"/><stop offset="0.15" stop-color="#ffe300"/><stop offset="0.2" stop-color="#e2ff1d"/><stop offset="0.25" stop-color="#a4ff5b"/><stop offset="0.3" stop-color="#5fffa0"/><stop offset="0.35" stop-color="#14ffeb"/><stop offset="0.4" stop-color="#00c2ff"/><stop offset="0.45" stop-color="#006eff"/><stop offset="0.5" stop-color="#001eff"/><stop offset="0.55" stop-color="#0000d7"/><stop offset="0.6" stop-color="#0000a5"/><stop offset="0.65" stop-color="#000090"/><stop offset="0.7" stop-color="#00009d"/><stop offset="0.75" stop-color="#0000c8"/><stop offset="0.8" stop-color="#000cff"/><stop offset="0.85" stop-color="#005dff"/><stop offset="0.9" stop-color="#00b2ff"/><stop offset="0.95" stop-color="#06fff9"/><stop offset="1" stop-color="#51ffae"/></linearGradient>
<rect x="339.8" y="67.52" width="74.8" height="2.5" fill="url(#h29)"/>
<linearGradient id="h30"><stop offset="0" stop-color="#ff5b00"/><stop offset="0.05" stop-color="#ff7f00"/><stop offset="0.1" stop-color="#ffa900"/><stop offset="0.15" stop-color="#ffd800"/><stop offset="0.2" stop-color="#f2ff0d"/><stop offset="0.25" stop-color="#b7ff48"/><stop offset="0.3" stop-color="#74ff8b"/><stop offset="0.35" stop-color="#29ffd6"/><stop offset="0.4" stop-color="#00d4ff"/><stop offset="0.45" stop-color="#007cff"/><stop offset="0.5" stop-color="#0024ff"/><stop offset="0.55" stop-color="#0000d4"/><stop offset="0.6" stop-color="#00009b"/><stop offset="0.65" stop-color="#000083"/><stop offset="0.7" stop-color="#000092"/><stop offset="0.75" stop-color="#0000c4"/><stop offset="0.8" stop-color="#0012ff"/><stop offset="0.85" stop-color="#006dff"/><stop offset="0.9" stop-color="#00caff"/><stop offset="0.95" stop-color="#22ffdd"/><stop offset="1" stop-color="#70ff8f"/></linearGradient>
<rect x="339.8" y="69.51" width="74.8" height="2.5" fill="url(#h30)"/>
<linearGradient id="h31"><stop offset="0" stop-color="#ff6000"/><stop offset="0.05" stop-color="#ff7d00"/><stop offset="0.1" stop-color="#ffa000"/><stop offset="0.15" stop-color="#ffc900"/><stop offset="0.2" stop-color="#fff700"/><stop offset="0.25" stop-color="#d0ff2f"/><stop offset="0.3" stop-color="#90ff6f"/><stop offset="0.35" stop-color="#46ffb9"/><stop offset="0.4" stop-color="#00f1ff"/><stop offset="0.45" stop-color="#0095ff"/><stop offset="0.5" stop-color="#0036ff"/><stop offset="0.55" stop-color="#0000de"/><stop offset="0.6" stop-color="#00009d"/><stop offset="0.65" stop-color="#000081"/><stop offset="0.7" stop-color="#000091"/><stop offset="0.75" stop-color="#0000cc"/><stop offset="0.8" stop-color="#0025ff"/><stop offset="0.85" stop-color="#008aff"/><stop offset="0.9" stop-color="#00eeff"/><stop offset="0.95" stop-color="#4affb5"/><stop offset="1" stop-color="#99ff66"/></linearGradient>
<rect x="339.8" y="71.51" width="74.8" height="2.5" fill="url(#h31)"/>
<linearGradient id="h32"><stop offset="0" stop-color="#ff6300"/><stop offset="0.05" stop-color="#ff7900"/><stop offset="0.1" stop-color="#ff9500"/><stop offset="0.15" stop-color="#ffb600"/><stop offset="0.2" stop-color="#ffde00"/><stop offset="0.25" stop-color="#efff10"/><stop offset="0.3" stop-color="#b5ff4a"/><stop offset="0.35" stop-color="#6fff90"/><stop offset="0.4" stop-color="#1dffe2"/><stop offset="0.45" stop-color="#00beff"/><stop offset="0.5" stop-color="#005aff"/><stop offset="0.55" stop-color="#0000f9"/><stop offset="0.6" stop-color="#0000af"/><stop offset="0.65" stop-color="#00008f"/><stop offset="0.7" stop-color="#0000a3"/><stop offset="0.75" stop-color="#0000e7"/><stop offset="0.8" stop-color="#004bff"/><stop offset="0.85" stop-color="#00b9ff"/><stop offset="0.9" stop-color="#23ffdc"/><stop offset="0.95" stop-color="#80ff7f"/><stop offset="1" stop-color="#ceff31"/></linearGradient>
<rect x="339.8" y="73.51" width="74.8" height="2.5" fill="url(#h32)"/>
<linearGradient id="h33"><stop offset="0" stop-color="#ff6500"/><stop offset="0.05" stop-color="#ff7300"/><stop offset="0.1" stop-color="#ff8700"/><stop offset="0.15" stop-color="#ffa100"/><stop offset="0.2" stop-color="#ffc100"/><stop offset="0.25" stop-color="#ffe900"/><stop offset="0.3" stop-color="#e2ff1d"/><stop offset="0.35" stop-color="#a4ff5b"/><stop offset="0.4" stop-color="#57ffa8"/><stop offset="0.45" stop-color="#00fbff"/><stop offset="0.5" stop-color="#0096ff"/><stop offset="0.55" stop-color="#0030ff"/><stop offset="0.6" stop-color="#0000de"/><stop offset="0.65" stop-color="#0000b9"/><stop offset="0.7" stop-color="#0000d1"/><stop offset="0.75" stop-color="#0020ff"/><stop offset="0.8" stop-color="#008eff"/><stop offset="0.85" stop-color="#03fffc"/><stop offset="0.9" stop-color="#6dff92"/><stop offset="0.95" stop-color="#c7ff38"/><stop offset="1" stop-color="#ffee00"/></linearGradient>
<rect x="339.8" y="75.51" width="74.8" height="2.5" fill="url(#h33)"/>
<linearGradient id="h34"><stop offset="0" stop-color="#ff6600"/><stop offset="0.05" stop-color="#ff6c00"/><stop offset="0.1" stop-color="#ff7700"/><stop offset="0.15" stop-color="#ff8800"/><stop offset="0.2" stop-color="#ff9e00"/><stop offset="0.25" stop-color="#ffbd00"/><stop offset="0.3" stop-color="#ffe400"/><stop offset="0.35" stop-color="#e6ff19"/><stop offset="0.4" stop-color="#a5ff5a"/><stop offset="0.45" stop-color="#53ffac"/><stop offset="0.5" stop-color="#00f2ff"/><stop offset="0.55" stop-color="#008eff"/><stop offset="0.6" stop-color="#0039ff"/><stop offset="0.65" stop-color="#0013ff"/><stop offset="0.7" stop-color="#002fff"/><stop offset="0.75" stop-color="#0087ff"/><stop offset="0.8" stop-color="#00fbff"/><stop offset="0.85" stop-color="#6fff90"/><stop offset="0.9" stop-color="#d3ff2c"/><stop offset="0.95" stop-color="#ffdb00"/><stop offset="1" stop-color="#ff9e00"/></linearGradient>
<rect x="339.8" y="77.5" width="74.8" height="2" fill="url(#h34)"/>
<rect x="416.4" y="9.6" width="5.2" height="69.9" fill="url(#jetbar)"/>
<text x="339.8" y="87.9" font-size="6.1" fill="#111" text-anchor="middle">0</text>
<text x="337.6" y="81.7" font-size="6.1" fill="#111" text-anchor="end">0</text>
<text x="358.5" y="87.9" font-size="6.1" fill="#111" text-anchor="middle">1</text>
<text x="337.6" y="64.22" font-size="6.1" fill="#111" text-anchor="end">1</text>
<text x="377.2" y="87.9" font-size="6.1" fill="#111" text-anchor="middle">2</text>
<text x="337.6" y="46.75" font-size="6.1" fill="#111" text-anchor="end">2</text>
<text x="395.9" y="87.9" font-size="6.1" fill="#111" text-anchor="middle">3</text>
<text x="337.6" y="29.27" font-size="6.1" fill="#111" text-anchor="end">3</text>
<text x="414.6" y="87.9" font-size="6.1" fill="#111" text-anchor="middle">4</text>
<text x="337.6" y="11.8" font-size="6.1" fill="#111" text-anchor="end">4</text>
<text x="425.2" y="12.2" font-size="6.1" fill="#111" text-anchor="middle">1</text>
<text x="425.2" y="81.9" font-size="6.1" fill="#111" text-anchor="middle">0</text>
<text x="376.5" y="94.5" font-size="5.2" fill="#111" text-anchor="middle" font-style="italic">n</text>
<text transform="translate(331.5,44.8) rotate(-90)" font-size="5.2" fill="#111" text-anchor="middle" font-style="italic">k</text>
<line x1="260.5" y1="5.4" x2="434.5" y2="5.4" stroke="#000" stroke-width="1.1"/>
<line x1="260.5" y1="170.6" x2="434.5" y2="170.6" stroke="#1e3a1e" stroke-width="1"/>
<line x1="260.5" y1="4.9" x2="260.5" y2="171" stroke="#1414f0" stroke-width="1.3"/>
<line x1="434.5" y1="4.9" x2="434.5" y2="171" stroke="#c414c4" stroke-width="1.3"/>
<line x1="260.5" y1="170.6" x2="264.5" y2="170.6" stroke="#1414f0" stroke-width="1.1"/>
<text x="257.2" y="173.7" font-size="9.6" fill="#1a1af5" text-anchor="end">1.0</text>
<line x1="260.5" y1="153.4" x2="262.9" y2="153.4" stroke="#1414f0" stroke-width="1.1"/>
<line x1="260.5" y1="136.2" x2="264.5" y2="136.2" stroke="#1414f0" stroke-width="1.1"/>
<text x="257.2" y="139.3" font-size="9.6" fill="#1a1af5" text-anchor="end">1.5</text>
<line x1="260.5" y1="119" x2="262.9" y2="119" stroke="#1414f0" stroke-width="1.1"/>
<line x1="260.5" y1="101.8" x2="264.5" y2="101.8" stroke="#1414f0" stroke-width="1.1"/>
<text x="257.2" y="104.9" font-size="9.6" fill="#1a1af5" text-anchor="end">2.0</text>
<line x1="260.5" y1="84.6" x2="262.9" y2="84.6" stroke="#1414f0" stroke-width="1.1"/>
<line x1="260.5" y1="67.4" x2="264.5" y2="67.4" stroke="#1414f0" stroke-width="1.1"/>
<text x="257.2" y="70.5" font-size="9.6" fill="#1a1af5" text-anchor="end">2.5</text>
<line x1="260.5" y1="50.2" x2="262.9" y2="50.2" stroke="#1414f0" stroke-width="1.1"/>
<line x1="260.5" y1="33" x2="264.5" y2="33" stroke="#1414f0" stroke-width="1.1"/>
<text x="257.2" y="36.1" font-size="9.6" fill="#1a1af5" text-anchor="end">3.0</text>
<line x1="260.5" y1="15.8" x2="262.9" y2="15.8" stroke="#1414f0" stroke-width="1.1"/>
<line x1="434.5" y1="164.95" x2="432.1" y2="164.95" stroke="#c414c4" stroke-width="1.1"/>
<line x1="434.5" y1="150.4" x2="430.5" y2="150.4" stroke="#c414c4" stroke-width="1.1"/>
<text x="438" y="153.5" font-size="9.6" fill="#f212f2" text-anchor="start">0.4</text>
<line x1="434.5" y1="135.85" x2="432.1" y2="135.85" stroke="#c414c4" stroke-width="1.1"/>
<line x1="434.5" y1="121.3" x2="430.5" y2="121.3" stroke="#c414c4" stroke-width="1.1"/>
<text x="438" y="124.4" font-size="9.6" fill="#f212f2" text-anchor="start">0.5</text>
<line x1="434.5" y1="106.75" x2="432.1" y2="106.75" stroke="#c414c4" stroke-width="1.1"/>
<line x1="434.5" y1="92.2" x2="430.5" y2="92.2" stroke="#c414c4" stroke-width="1.1"/>
<text x="438" y="95.3" font-size="9.6" fill="#f212f2" text-anchor="start">0.6</text>
<line x1="434.5" y1="77.65" x2="432.1" y2="77.65" stroke="#c414c4" stroke-width="1.1"/>
<line x1="434.5" y1="63.1" x2="430.5" y2="63.1" stroke="#c414c4" stroke-width="1.1"/>
<text x="438" y="66.2" font-size="9.6" fill="#f212f2" text-anchor="start">0.7</text>
<line x1="434.5" y1="48.55" x2="432.1" y2="48.55" stroke="#c414c4" stroke-width="1.1"/>
<line x1="434.5" y1="34" x2="430.5" y2="34" stroke="#c414c4" stroke-width="1.1"/>
<text x="438" y="37.1" font-size="9.6" fill="#f212f2" text-anchor="start">0.8</text>
<line x1="434.5" y1="19.45" x2="432.1" y2="19.45" stroke="#c414c4" stroke-width="1.1"/>
<text x="438" y="8" font-size="9.6" fill="#f212f2" text-anchor="start">0.9</text>
<line x1="272.8" y1="170.6" x2="272.8" y2="166.8" stroke="#1a2a1a" stroke-width="1"/>
<text x="272.8" y="181" font-size="9.2" fill="#111" text-anchor="middle">20</text>
<line x1="285.2" y1="170.6" x2="285.2" y2="168.6" stroke="#1a2a1a" stroke-width="1"/>
<line x1="297.6" y1="170.6" x2="297.6" y2="166.8" stroke="#1a2a1a" stroke-width="1"/>
<text x="297.6" y="181" font-size="9.2" fill="#111" text-anchor="middle">30</text>
<line x1="310" y1="170.6" x2="310" y2="168.6" stroke="#1a2a1a" stroke-width="1"/>
<line x1="322.4" y1="170.6" x2="322.4" y2="166.8" stroke="#1a2a1a" stroke-width="1"/>
<text x="322.4" y="181" font-size="9.2" fill="#111" text-anchor="middle">40</text>
<line x1="334.8" y1="170.6" x2="334.8" y2="168.6" stroke="#1a2a1a" stroke-width="1"/>
<line x1="347.2" y1="170.6" x2="347.2" y2="166.8" stroke="#1a2a1a" stroke-width="1"/>
<text x="347.2" y="181" font-size="9.2" fill="#111" text-anchor="middle">50</text>
<line x1="359.6" y1="170.6" x2="359.6" y2="168.6" stroke="#1a2a1a" stroke-width="1"/>
<line x1="372" y1="170.6" x2="372" y2="166.8" stroke="#1a2a1a" stroke-width="1"/>
<text x="372" y="181" font-size="9.2" fill="#111" text-anchor="middle">60</text>
<line x1="384.4" y1="170.6" x2="384.4" y2="168.6" stroke="#1a2a1a" stroke-width="1"/>
<line x1="396.8" y1="170.6" x2="396.8" y2="166.8" stroke="#1a2a1a" stroke-width="1"/>
<text x="396.8" y="181" font-size="9.2" fill="#111" text-anchor="middle">70</text>
<line x1="409.2" y1="170.6" x2="409.2" y2="168.6" stroke="#1a2a1a" stroke-width="1"/>
<line x1="421.6" y1="170.6" x2="421.6" y2="166.8" stroke="#1a2a1a" stroke-width="1"/>
<text x="421.6" y="181" font-size="9.2" fill="#111" text-anchor="middle">80</text>
<text transform="translate(239.4,80.5) rotate(-90)" font-size="11" fill="#1a1af5" text-anchor="middle" font-style="italic">n</text>
<text transform="translate(453.2,69.5) rotate(-90)" font-size="11" fill="#f212f2" text-anchor="middle" font-style="italic">k</text>
<line x1="275.01" y1="22.93" x2="295.39" y2="56.83" stroke="#1a1af0" stroke-width="1.15"/>
<line x1="300.48" y1="63.71" x2="319.52" y2="84.85" stroke="#1a1af0" stroke-width="1.15"/>
<line x1="326.16" y1="90.13" x2="343.44" y2="99.71" stroke="#1a1af0" stroke-width="1.15"/>
<line x1="350.96" y1="103.89" x2="368.24" y2="113.47" stroke="#1a1af0" stroke-width="1.15"/>
<line x1="375.76" y1="117.65" x2="393.04" y2="127.23" stroke="#1a1af0" stroke-width="1.15"/>
<line x1="401.1" y1="129.32" x2="417.3" y2="129.32" stroke="#1a1af0" stroke-width="1.15"/>
<circle cx="272.8" cy="19.24" r="3" fill="url(#bb)"/>
<circle cx="297.6" cy="60.52" r="3" fill="url(#bb)"/>
<circle cx="322.4" cy="88.04" r="3" fill="url(#bb)"/>
<circle cx="347.2" cy="101.8" r="3" fill="url(#bb)"/>
<circle cx="372" cy="115.56" r="3" fill="url(#bb)"/>
<circle cx="396.8" cy="129.32" r="3" fill="url(#bb)"/>
<circle cx="421.6" cy="129.32" r="3" fill="url(#bb)"/>
<line x1="276.8" y1="150.4" x2="293.6" y2="150.4" stroke="#d23ad0" stroke-width="1"/>
<line x1="301.6" y1="150.4" x2="318.4" y2="150.4" stroke="#d23ad0" stroke-width="1"/>
<line x1="326.4" y1="150.4" x2="343.2" y2="150.4" stroke="#d23ad0" stroke-width="1"/>
<line x1="351.2" y1="150.4" x2="368" y2="150.4" stroke="#d23ad0" stroke-width="1"/>
<line x1="376" y1="150.4" x2="392.8" y2="150.4" stroke="#d23ad0" stroke-width="1"/>
<line x1="400.8" y1="150.4" x2="417.6" y2="150.4" stroke="#d23ad0" stroke-width="1"/>
<circle cx="272.8" cy="150.4" r="3" fill="url(#mb)"/>
<circle cx="297.6" cy="150.4" r="3" fill="url(#mb)"/>
<circle cx="322.4" cy="150.4" r="3" fill="url(#mb)"/>
<circle cx="347.2" cy="150.4" r="3" fill="url(#mb)"/>
<circle cx="372" cy="150.4" r="3" fill="url(#mb)"/>
<circle cx="396.8" cy="150.4" r="3" fill="url(#mb)"/>
<circle cx="421.6" cy="150.4" r="3" fill="url(#mb)"/>
<ellipse cx="296.5" cy="59.7" rx="11.8" ry="16.7" fill="none" stroke="#2020e8" stroke-width="1.1" stroke-dasharray="4.8 3.4"/>
<line x1="284.9" y1="55.4" x2="267.1" y2="55.4" stroke="#1a1af0" stroke-width="1.1"/>
<polygon points="263.1,55.4 268.1,53.8 268.1,57" fill="#1a1af0"/>
<ellipse cx="397.9" cy="152.9" rx="8.5" ry="11.4" fill="none" stroke="#d030cc" stroke-width="1.1" stroke-dasharray="4.6 3.6"/>
<line x1="404.9" y1="159.7" x2="423.2" y2="159.7" stroke="#d030cc" stroke-width="1.1"/>
<polygon points="427,159.7 422.2,161.3 422.2,158.1" fill="#d030cc"/>
<text x="241.6" y="194" font-size="14" fill="#000" text-anchor="start">(b)</text>
<text x="277.7" y="193.2" font-size="9.08" fill="#111" text-anchor="start">Thickness of absorptive layer (nm)</text>
</g>
<g id="pc">
<rect x="502.4" y="5.4" width="22.05" height="165.2" fill="#f9d3ab"/>
<rect x="524.45" y="5.4" width="155.85" height="165.2" fill="url(#cpink)"/>
<rect x="502.4" y="5.4" width="177.89999999999998" height="165.2" fill="none" stroke="#1a1410" stroke-opacity="0.85" stroke-width="1.2"/>
<text x="498.3" y="174" font-size="9.3" fill="#111" text-anchor="end">0.00</text>
<line x1="502.4" y1="156.89" x2="504.2" y2="156.89" stroke="#222" stroke-width="1"/>
<line x1="502.4" y1="143.07" x2="505.6" y2="143.07" stroke="#222" stroke-width="1"/>
<text x="498.3" y="146.38" font-size="9.3" fill="#111" text-anchor="end">0.05</text>
<line x1="502.4" y1="129.26" x2="504.2" y2="129.26" stroke="#222" stroke-width="1"/>
<line x1="502.4" y1="115.45" x2="505.6" y2="115.45" stroke="#222" stroke-width="1"/>
<text x="498.3" y="118.75" font-size="9.3" fill="#111" text-anchor="end">0.10</text>
<line x1="502.4" y1="101.64" x2="504.2" y2="101.64" stroke="#222" stroke-width="1"/>
<line x1="502.4" y1="87.82" x2="505.6" y2="87.82" stroke="#222" stroke-width="1"/>
<text x="498.3" y="91.12" font-size="9.3" fill="#111" text-anchor="end">0.15</text>
<line x1="502.4" y1="74.01" x2="504.2" y2="74.01" stroke="#222" stroke-width="1"/>
<line x1="502.4" y1="60.2" x2="505.6" y2="60.2" stroke="#222" stroke-width="1"/>
<text x="498.3" y="63.5" font-size="9.3" fill="#111" text-anchor="end">0.20</text>
<line x1="502.4" y1="46.39" x2="504.2" y2="46.39" stroke="#222" stroke-width="1"/>
<line x1="502.4" y1="32.57" x2="505.6" y2="32.57" stroke="#222" stroke-width="1"/>
<text x="498.3" y="35.87" font-size="9.3" fill="#111" text-anchor="end">0.25</text>
<line x1="502.4" y1="18.76" x2="504.2" y2="18.76" stroke="#222" stroke-width="1"/>
<text x="498.3" y="8.25" font-size="9.3" fill="#111" text-anchor="end">0.30</text>
<line x1="507.8" y1="170.6" x2="507.8" y2="167.4" stroke="#222" stroke-width="1"/>
<text x="507.8" y="182" font-size="9.2" fill="#111" text-anchor="middle">0</text>
<line x1="518.9" y1="170.6" x2="518.9" y2="168.8" stroke="#222" stroke-width="1"/>
<line x1="530" y1="170.6" x2="530" y2="167.4" stroke="#222" stroke-width="1"/>
<text x="530" y="182" font-size="9.2" fill="#111" text-anchor="middle">2</text>
<line x1="541.1" y1="170.6" x2="541.1" y2="168.8" stroke="#222" stroke-width="1"/>
<line x1="552.2" y1="170.6" x2="552.2" y2="167.4" stroke="#222" stroke-width="1"/>
<text x="552.2" y="182" font-size="9.2" fill="#111" text-anchor="middle">4</text>
<line x1="563.3" y1="170.6" x2="563.3" y2="168.8" stroke="#222" stroke-width="1"/>
<line x1="574.4" y1="170.6" x2="574.4" y2="167.4" stroke="#222" stroke-width="1"/>
<text x="574.4" y="182" font-size="9.2" fill="#111" text-anchor="middle">6</text>
<line x1="585.5" y1="170.6" x2="585.5" y2="168.8" stroke="#222" stroke-width="1"/>
<line x1="596.6" y1="170.6" x2="596.6" y2="167.4" stroke="#222" stroke-width="1"/>
<text x="596.6" y="182" font-size="9.2" fill="#111" text-anchor="middle">8</text>
<line x1="607.7" y1="170.6" x2="607.7" y2="168.8" stroke="#222" stroke-width="1"/>
<line x1="618.8" y1="170.6" x2="618.8" y2="167.4" stroke="#222" stroke-width="1"/>
<text x="618.8" y="182" font-size="9.2" fill="#111" text-anchor="middle">10</text>
<line x1="629.9" y1="170.6" x2="629.9" y2="168.8" stroke="#222" stroke-width="1"/>
<line x1="641" y1="170.6" x2="641" y2="167.4" stroke="#222" stroke-width="1"/>
<text x="641" y="182" font-size="9.2" fill="#111" text-anchor="middle">12</text>
<line x1="652.1" y1="170.6" x2="652.1" y2="168.8" stroke="#222" stroke-width="1"/>
<line x1="663.2" y1="170.6" x2="663.2" y2="167.4" stroke="#222" stroke-width="1"/>
<text x="663.2" y="182" font-size="9.2" fill="#111" text-anchor="middle">14</text>
<line x1="674.3" y1="170.6" x2="674.3" y2="168.8" stroke="#222" stroke-width="1"/>
<clipPath id="cclip"><rect x="502.4" y="5.4" width="177.89999999999998" height="166.4"/></clipPath>
<g clip-path="url(#cclip)" opacity="0.88">
<polyline points="507.8,61.86 518.9,160.2 530,117.66 541.1,96.89 552.2,90.31 563.3,88.38 574.4,87.27 585.5,86.72 596.6,86.72 607.7,86.72 618.8,86.72 629.9,86.72 641,86.72 652.1,86.72 663.2,86.72 674.3,86.72" fill="none" stroke="#4a3848" stroke-width="1" stroke-linejoin="round"/>
<circle cx="507.8" cy="61.86" r="2.15" fill="#4a3848"/>
<circle cx="518.9" cy="160.2" r="2.15" fill="#4a3848"/>
<circle cx="530" cy="117.66" r="2.15" fill="#4a3848"/>
<circle cx="541.1" cy="96.89" r="2.15" fill="#4a3848"/>
<circle cx="552.2" cy="90.31" r="2.15" fill="#4a3848"/>
<circle cx="563.3" cy="88.38" r="2.15" fill="#4a3848"/>
<circle cx="574.4" cy="87.27" r="2.15" fill="#4a3848"/>
<circle cx="585.5" cy="86.72" r="2.15" fill="#4a3848"/>
<circle cx="596.6" cy="86.72" r="2.15" fill="#4a3848"/>
<circle cx="607.7" cy="86.72" r="2.15" fill="#4a3848"/>
<circle cx="618.8" cy="86.72" r="2.15" fill="#4a3848"/>
<circle cx="629.9" cy="86.72" r="2.15" fill="#4a3848"/>
<circle cx="641" cy="86.72" r="2.15" fill="#4a3848"/>
<circle cx="652.1" cy="86.72" r="2.15" fill="#4a3848"/>
<circle cx="663.2" cy="86.72" r="2.15" fill="#4a3848"/>
<circle cx="674.3" cy="86.72" r="2.15" fill="#4a3848"/>
<polyline points="507.8,56.33 518.9,165.17 530,169.59 541.1,170.53 552.2,170.53 563.3,170.53 574.4,170.53 585.5,170.53 596.6,170.53 607.7,170.53 618.8,170.53 629.9,170.53 641,170.53 652.1,170.53 663.2,170.53 674.3,170.53" fill="none" stroke="#f04848" stroke-width="1" stroke-linejoin="round"/>
<circle cx="507.8" cy="56.33" r="2.15" fill="#f04848"/>
<circle cx="518.9" cy="165.17" r="2.15" fill="#f04848"/>
<circle cx="530" cy="169.59" r="2.15" fill="#f04848"/>
<circle cx="541.1" cy="170.53" r="2.15" fill="#f04848"/>
<circle cx="552.2" cy="170.53" r="2.15" fill="#f04848"/>
<circle cx="563.3" cy="170.53" r="2.15" fill="#f04848"/>
<circle cx="574.4" cy="170.53" r="2.15" fill="#f04848"/>
<circle cx="585.5" cy="170.53" r="2.15" fill="#f04848"/>
<circle cx="596.6" cy="170.53" r="2.15" fill="#f04848"/>
<circle cx="607.7" cy="170.53" r="2.15" fill="#f04848"/>
<circle cx="618.8" cy="170.53" r="2.15" fill="#f04848"/>
<circle cx="629.9" cy="170.53" r="2.15" fill="#f04848"/>
<circle cx="641" cy="170.53" r="2.15" fill="#f04848"/>
<circle cx="652.1" cy="170.53" r="2.15" fill="#f04848"/>
<circle cx="663.2" cy="170.53" r="2.15" fill="#f04848"/>
<circle cx="674.3" cy="170.53" r="2.15" fill="#f04848"/>
<polyline points="507.8,49.7 518.9,151.91 530,160.42 541.1,161.58 552.2,161.58 563.3,161.58 574.4,161.58 585.5,161.58 596.6,161.58 607.7,161.58 618.8,161.58 629.9,161.58 641,161.58 652.1,161.58 663.2,161.58 674.3,161.58" fill="none" stroke="#50d455" stroke-width="1" stroke-linejoin="round"/>
<circle cx="507.8" cy="49.7" r="2.15" fill="#50d455"/>
<circle cx="518.9" cy="151.91" r="2.15" fill="#50d455"/>
<circle cx="530" cy="160.42" r="2.15" fill="#50d455"/>
<circle cx="541.1" cy="161.58" r="2.15" fill="#50d455"/>
<circle cx="552.2" cy="161.58" r="2.15" fill="#50d455"/>
<circle cx="563.3" cy="161.58" r="2.15" fill="#50d455"/>
<circle cx="574.4" cy="161.58" r="2.15" fill="#50d455"/>
<circle cx="585.5" cy="161.58" r="2.15" fill="#50d455"/>
<circle cx="596.6" cy="161.58" r="2.15" fill="#50d455"/>
<circle cx="607.7" cy="161.58" r="2.15" fill="#50d455"/>
<circle cx="618.8" cy="161.58" r="2.15" fill="#50d455"/>
<circle cx="629.9" cy="161.58" r="2.15" fill="#50d455"/>
<circle cx="641" cy="161.58" r="2.15" fill="#50d455"/>
<circle cx="652.1" cy="161.58" r="2.15" fill="#50d455"/>
<circle cx="663.2" cy="161.58" r="2.15" fill="#50d455"/>
<circle cx="674.3" cy="161.58" r="2.15" fill="#50d455"/>
<polyline points="507.8,40.86 518.9,133.13 530,141.14 541.1,142.41 552.2,142.41 563.3,142.41 574.4,142.41 585.5,142.41 596.6,142.41 607.7,142.41 618.8,142.41 629.9,142.41 641,142.41 652.1,142.41 663.2,142.41 674.3,142.41" fill="none" stroke="#5544dd" stroke-width="1" stroke-linejoin="round"/>
<circle cx="507.8" cy="40.86" r="2.15" fill="#5544dd"/>
<circle cx="518.9" cy="133.13" r="2.15" fill="#5544dd"/>
<circle cx="530" cy="141.14" r="2.15" fill="#5544dd"/>
<circle cx="541.1" cy="142.41" r="2.15" fill="#5544dd"/>
<circle cx="552.2" cy="142.41" r="2.15" fill="#5544dd"/>
<circle cx="563.3" cy="142.41" r="2.15" fill="#5544dd"/>
<circle cx="574.4" cy="142.41" r="2.15" fill="#5544dd"/>
<circle cx="585.5" cy="142.41" r="2.15" fill="#5544dd"/>
<circle cx="596.6" cy="142.41" r="2.15" fill="#5544dd"/>
<circle cx="607.7" cy="142.41" r="2.15" fill="#5544dd"/>
<circle cx="618.8" cy="142.41" r="2.15" fill="#5544dd"/>
<circle cx="629.9" cy="142.41" r="2.15" fill="#5544dd"/>
<circle cx="641" cy="142.41" r="2.15" fill="#5544dd"/>
<circle cx="652.1" cy="142.41" r="2.15" fill="#5544dd"/>
<circle cx="663.2" cy="142.41" r="2.15" fill="#5544dd"/>
<circle cx="674.3" cy="142.41" r="2.15" fill="#5544dd"/>
<polyline points="507.8,29.81 518.9,111.03 530,117.94 541.1,119.04 552.2,119.04 563.3,119.04 574.4,119.04 585.5,119.04 596.6,119.04 607.7,119.04 618.8,119.04 629.9,119.04 641,119.04 652.1,119.04 663.2,119.04 674.3,119.04" fill="none" stroke="#55dce0" stroke-width="1" stroke-linejoin="round"/>
<circle cx="507.8" cy="29.81" r="2.15" fill="#55dce0"/>
<circle cx="518.9" cy="111.03" r="2.15" fill="#55dce0"/>
<circle cx="530" cy="117.94" r="2.15" fill="#55dce0"/>
<circle cx="541.1" cy="119.04" r="2.15" fill="#55dce0"/>
<circle cx="552.2" cy="119.04" r="2.15" fill="#55dce0"/>
<circle cx="563.3" cy="119.04" r="2.15" fill="#55dce0"/>
<circle cx="574.4" cy="119.04" r="2.15" fill="#55dce0"/>
<circle cx="585.5" cy="119.04" r="2.15" fill="#55dce0"/>
<circle cx="596.6" cy="119.04" r="2.15" fill="#55dce0"/>
<circle cx="607.7" cy="119.04" r="2.15" fill="#55dce0"/>
<circle cx="618.8" cy="119.04" r="2.15" fill="#55dce0"/>
<circle cx="629.9" cy="119.04" r="2.15" fill="#55dce0"/>
<circle cx="641" cy="119.04" r="2.15" fill="#55dce0"/>
<circle cx="652.1" cy="119.04" r="2.15" fill="#55dce0"/>
<circle cx="663.2" cy="119.04" r="2.15" fill="#55dce0"/>
<circle cx="674.3" cy="119.04" r="2.15" fill="#55dce0"/>
</g>
<line x1="635.8" y1="14.6" x2="656.3" y2="14.6" stroke="#4a3848" stroke-width="1"/>
<circle cx="645.9" cy="14.6" r="2.15" fill="#4a3848"/>
<text x="658.8" y="17.5" font-size="8.2" fill="#4a4a4a" text-anchor="start">0</text>
<line x1="635.8" y1="25.5" x2="656.3" y2="25.5" stroke="#f04848" stroke-width="1"/>
<circle cx="645.9" cy="25.5" r="2.15" fill="#f04848"/>
<text x="658.8" y="28.4" font-size="8.2" fill="#4a4a4a" text-anchor="start">0.4</text>
<line x1="635.8" y1="36.4" x2="656.3" y2="36.4" stroke="#50d455" stroke-width="1"/>
<circle cx="645.9" cy="36.4" r="2.15" fill="#50d455"/>
<text x="658.8" y="39.3" font-size="8.2" fill="#4a4a4a" text-anchor="start">0.6</text>
<line x1="635.8" y1="47.3" x2="656.3" y2="47.3" stroke="#5544dd" stroke-width="1"/>
<circle cx="645.9" cy="47.3" r="2.15" fill="#5544dd"/>
<text x="658.8" y="50.2" font-size="8.2" fill="#4a4a4a" text-anchor="start">0.8</text>
<line x1="635.8" y1="58.2" x2="656.3" y2="58.2" stroke="#55dce0" stroke-width="1"/>
<circle cx="645.9" cy="58.2" r="2.15" fill="#55dce0"/>
<text x="658.8" y="61.1" font-size="8.2" fill="#4a4a4a" text-anchor="start">1</text>
<text transform="translate(476.3,94) rotate(-90)" font-size="9.5" fill="#111" text-anchor="middle">Partial reflectance</text>
<text x="477.2" y="194.3" font-size="14" fill="#000" text-anchor="start">(c)</text>
<text x="530.4" y="192.6" font-size="9.66" fill="#111" text-anchor="start">Number of secondary waves</text>
</g>
<g id="pd">
<rect x="33.9" y="222" width="176.7" height="165.3" fill="url(#dbg)"/>
<polyline points="134,311.5 46,374.9 79,370.8 82.1,366 82.6,364.4 82.8,363.8" fill="none" stroke="#4fe0dc" stroke-width="1" stroke-linejoin="round"/>
<circle cx="134" cy="311.5" r="1.9" fill="#4fe0dc"/>
<circle cx="46" cy="374.9" r="1.9" fill="#4fe0dc"/>
<circle cx="79" cy="370.8" r="1.9" fill="#4fe0dc"/>
<circle cx="82.1" cy="366" r="1.9" fill="#4fe0dc"/>
<circle cx="82.6" cy="364.4" r="1.9" fill="#4fe0dc"/>
<circle cx="82.8" cy="363.8" r="1.9" fill="#4fe0dc"/>
<polyline points="134,311.5 47.9,363.6 90.2,357.9 94.5,351.7 95.3,349.6 95.6,348.8" fill="none" stroke="#3030e0" stroke-width="1" stroke-linejoin="round"/>
<circle cx="134" cy="311.5" r="1.9" fill="#3030e0"/>
<circle cx="47.9" cy="363.6" r="1.9" fill="#3030e0"/>
<circle cx="90.2" cy="357.9" r="1.9" fill="#3030e0"/>
<circle cx="94.5" cy="351.7" r="1.9" fill="#3030e0"/>
<circle cx="95.3" cy="349.6" r="1.9" fill="#3030e0"/>
<circle cx="95.6" cy="348.8" r="1.9" fill="#3030e0"/>
<polyline points="134,311.5 50.3,351.4 102.9,342.6 110.8,333.7 111.6,331 112,329.6" fill="none" stroke="#3fe03a" stroke-width="1" stroke-linejoin="round"/>
<circle cx="134" cy="311.5" r="1.9" fill="#3fe03a"/>
<circle cx="50.3" cy="351.4" r="1.9" fill="#3fe03a"/>
<circle cx="102.9" cy="342.6" r="1.9" fill="#3fe03a"/>
<circle cx="110.8" cy="333.7" r="1.9" fill="#3fe03a"/>
<circle cx="111.6" cy="331" r="1.9" fill="#3fe03a"/>
<circle cx="112" cy="329.6" r="1.9" fill="#3fe03a"/>
<polyline points="134,311.5 51.5,338.5 117.3,324.2 130.6,309.6 131.6,307.4 132,306.2" fill="none" stroke="#f22a20" stroke-width="1" stroke-linejoin="round"/>
<circle cx="134" cy="311.5" r="1.9" fill="#f22a20"/>
<circle cx="51.5" cy="338.5" r="1.9" fill="#f22a20"/>
<circle cx="117.3" cy="324.2" r="1.9" fill="#f22a20"/>
<circle cx="130.6" cy="309.6" r="1.9" fill="#f22a20"/>
<circle cx="131.6" cy="307.4" r="1.9" fill="#f22a20"/>
<circle cx="132" cy="306.2" r="1.9" fill="#f22a20"/>
<polyline points="134,311.5 52.7,311.5 154.2,273.8 184.3,251.1 193.4,240.4 196.1,236.1" fill="none" stroke="#2a1a10" stroke-width="1" stroke-linejoin="round"/>
<circle cx="134" cy="311.5" r="1.9" fill="#2a1a10"/>
<circle cx="52.7" cy="311.5" r="1.9" fill="#2a1a10"/>
<circle cx="154.2" cy="273.8" r="1.9" fill="#2a1a10"/>
<circle cx="184.3" cy="251.1" r="1.9" fill="#2a1a10"/>
<circle cx="193.4" cy="240.4" r="1.9" fill="#2a1a10"/>
<circle cx="196.1" cy="236.1" r="1.9" fill="#2a1a10"/>
<rect x="33.9" y="222" width="176.7" height="165.3" fill="none" stroke="#1a1410" stroke-opacity="0.85" stroke-width="1.2"/>
<line x1="33.9" y1="378.2" x2="37.1" y2="378.2" stroke="#222" stroke-width="1"/>
<text x="29.5" y="381.6" font-size="9.3" fill="#111" text-anchor="end">-0.15</text>
<line x1="33.9" y1="367.05" x2="35.7" y2="367.05" stroke="#222" stroke-width="1"/>
<line x1="33.9" y1="355.9" x2="37.1" y2="355.9" stroke="#222" stroke-width="1"/>
<text x="29.5" y="359.3" font-size="9.3" fill="#111" text-anchor="end">-0.10</text>
<line x1="33.9" y1="344.75" x2="35.7" y2="344.75" stroke="#222" stroke-width="1"/>
<line x1="33.9" y1="333.6" x2="37.1" y2="333.6" stroke="#222" stroke-width="1"/>
<text x="29.5" y="337" font-size="9.3" fill="#111" text-anchor="end">-0.05</text>
<line x1="33.9" y1="322.45" x2="35.7" y2="322.45" stroke="#222" stroke-width="1"/>
<line x1="33.9" y1="311.3" x2="37.1" y2="311.3" stroke="#222" stroke-width="1"/>
<text x="29.5" y="314.7" font-size="9.3" fill="#111" text-anchor="end">0.00</text>
<line x1="33.9" y1="300.15" x2="35.7" y2="300.15" stroke="#222" stroke-width="1"/>
<line x1="33.9" y1="289" x2="37.1" y2="289" stroke="#222" stroke-width="1"/>
<text x="29.5" y="292.4" font-size="9.3" fill="#111" text-anchor="end">0.05</text>
<line x1="33.9" y1="277.85" x2="35.7" y2="277.85" stroke="#222" stroke-width="1"/>
<line x1="33.9" y1="266.7" x2="37.1" y2="266.7" stroke="#222" stroke-width="1"/>
<text x="29.5" y="270.1" font-size="9.3" fill="#111" text-anchor="end">0.10</text>
<line x1="33.9" y1="255.55" x2="35.7" y2="255.55" stroke="#222" stroke-width="1"/>
<line x1="33.9" y1="244.4" x2="37.1" y2="244.4" stroke="#222" stroke-width="1"/>
<text x="29.5" y="247.8" font-size="9.3" fill="#111" text-anchor="end">0.15</text>
<line x1="33.9" y1="233.25" x2="35.7" y2="233.25" stroke="#222" stroke-width="1"/>
<text x="29.5" y="225.5" font-size="9.3" fill="#111" text-anchor="end">0.20</text>
<line x1="43.32" y1="387.3" x2="43.32" y2="385.5" stroke="#222" stroke-width="1"/>
<line x1="61.4" y1="387.3" x2="61.4" y2="384.1" stroke="#222" stroke-width="1"/>
<text x="61.4" y="400.2" font-size="9.5" fill="#111" text-anchor="middle">-0.4</text>
<line x1="79.47" y1="387.3" x2="79.47" y2="385.5" stroke="#222" stroke-width="1"/>
<line x1="97.55" y1="387.3" x2="97.55" y2="384.1" stroke="#222" stroke-width="1"/>
<text x="97.55" y="400.2" font-size="9.5" fill="#111" text-anchor="middle">-0.2</text>
<line x1="115.62" y1="387.3" x2="115.62" y2="385.5" stroke="#222" stroke-width="1"/>
<line x1="133.7" y1="387.3" x2="133.7" y2="384.1" stroke="#222" stroke-width="1"/>
<text x="133.7" y="400.2" font-size="9.5" fill="#111" text-anchor="middle">0.0</text>
<line x1="151.77" y1="387.3" x2="151.77" y2="385.5" stroke="#222" stroke-width="1"/>
<line x1="169.85" y1="387.3" x2="169.85" y2="384.1" stroke="#222" stroke-width="1"/>
<text x="169.85" y="400.2" font-size="9.5" fill="#111" text-anchor="middle">0.2</text>
<line x1="187.93" y1="387.3" x2="187.93" y2="385.5" stroke="#222" stroke-width="1"/>
<line x1="206" y1="387.3" x2="206" y2="384.1" stroke="#222" stroke-width="1"/>
<text x="206" y="400.2" font-size="9.5" fill="#111" text-anchor="middle">0.4</text>
<line x1="46.6" y1="231.5" x2="66.9" y2="231.5" stroke="#4fe0dc" stroke-width="1"/>
<circle cx="56.9" cy="231.5" r="1.9" fill="#4fe0dc"/>
<text x="69.3" y="234.4" font-size="8.2" fill="#222" text-anchor="start">1</text>
<line x1="46.6" y1="242.25" x2="66.9" y2="242.25" stroke="#3030e0" stroke-width="1"/>
<circle cx="56.9" cy="242.25" r="1.9" fill="#3030e0"/>
<text x="69.3" y="245.15" font-size="8.2" fill="#222" text-anchor="start">0.8</text>
<line x1="46.6" y1="253" x2="66.9" y2="253" stroke="#3fe03a" stroke-width="1"/>
<circle cx="56.9" cy="253" r="1.9" fill="#3fe03a"/>
<text x="69.3" y="255.9" font-size="8.2" fill="#222" text-anchor="start">0.6</text>
<line x1="46.6" y1="263.75" x2="66.9" y2="263.75" stroke="#f22a20" stroke-width="1"/>
<circle cx="56.9" cy="263.75" r="1.9" fill="#f22a20"/>
<text x="69.3" y="266.65" font-size="8.2" fill="#222" text-anchor="start">0.4</text>
<line x1="46.6" y1="274.5" x2="66.9" y2="274.5" stroke="#2a1a10" stroke-width="1"/>
<circle cx="56.9" cy="274.5" r="1.9" fill="#2a1a10"/>
<text x="69.3" y="277.4" font-size="8.2" fill="#222" text-anchor="start">0</text>
<text transform="translate(8.4,311) rotate(-90)" font-size="9.4" fill="#111" text-anchor="middle">Im[r]</text>
<text x="120.5" y="411" font-size="9.4" fill="#111" text-anchor="middle">Re[r]</text>
<text x="0.8" y="413" font-size="14" fill="#000" text-anchor="start">(d)</text>
</g>
<g id="pe">
<rect x="259.5" y="221.5" width="175.2" height="165.7" fill="url(#ebg)"/>
<clipPath id="eclip"><rect x="259.5" y="221.5" width="175.2" height="165.7"/></clipPath><g clip-path="url(#eclip)">
<polyline points="259.5,223.05 261.69,223.07 263.88,223.08 266.07,223.11 268.26,223.13 270.45,223.15 272.64,223.18 274.83,223.21 277.02,223.24 279.21,223.28 281.4,223.32 283.59,223.36 285.78,223.4 287.97,223.45 290.16,223.5 292.35,223.56 294.54,223.62 296.73,223.69 298.92,223.76 301.11,223.84 303.3,223.92 305.49,224.01 307.68,224.1 309.87,224.2 312.06,224.31 314.25,224.42 316.44,224.54 318.63,224.67 320.82,224.81 323.01,224.95 325.2,225.1 327.39,225.25 329.58,225.41 331.77,225.58 333.96,225.76 336.15,225.94 338.34,226.13 340.53,226.32 342.72,226.51 344.91,226.71 347.1,226.91 349.29,227.11 351.48,227.31 353.67,227.51 355.86,227.71 358.05,227.91 360.24,228.11 362.43,228.31 364.62,228.5 366.81,228.68 369,228.86 371.19,229.04 373.38,229.21 375.57,229.37 377.76,229.53 379.95,229.67 382.14,229.82 384.33,229.95 386.52,230.08 388.71,230.2 390.9,230.31 393.09,230.42 395.28,230.52 397.47,230.62 399.66,230.7 401.85,230.79 404.04,230.86 406.23,230.93 408.42,231 410.61,231.06 412.8,231.12 414.99,231.17 417.18,231.22 419.37,231.26 421.56,231.31 423.75,231.34 425.94,231.38 428.13,231.41 430.32,231.44 432.51,231.47 434.7,231.49" fill="none" stroke="#1f9088" stroke-width="1" stroke-linejoin="round"/>
<polyline points="259.5,295.11 261.69,295.13 263.88,295.16 266.07,295.2 268.26,295.25 270.45,295.29 272.64,295.34 274.83,295.39 277.02,295.45 279.21,295.51 281.4,295.56 283.59,295.62 285.78,295.69 287.97,295.75 290.16,295.81 292.35,295.88 294.54,295.95 296.73,296.02 298.92,296.09 301.11,296.16 303.3,296.23 305.49,296.3 307.68,296.38 309.87,296.45 312.06,296.53 314.25,296.61 316.44,296.69 318.63,296.77 320.82,296.85 323.01,296.93 325.2,297.01 327.39,297.09 329.58,297.18 331.77,297.26 333.96,297.35 336.15,297.43 338.34,297.52 340.53,297.6 342.72,297.69 344.91,297.78 347.1,297.87 349.29,297.96 351.48,298.05 353.67,298.14 355.86,298.24 358.05,298.33 360.24,298.42 362.43,298.52 364.62,298.61 366.81,298.71 369,298.8 371.19,298.9 373.38,298.99 375.57,299.09 377.76,299.19 379.95,299.29 382.14,299.39 384.33,299.49 386.52,299.59 388.71,299.69 390.9,299.79 393.09,299.89 395.28,299.99 397.47,300.1 399.66,300.2 401.85,300.3 404.04,300.41 406.23,300.51 408.42,300.62 410.61,300.72 412.8,300.83 414.99,300.93 417.18,301.04 419.37,301.15 421.56,301.26 423.75,301.36 425.94,301.47 428.13,301.58 430.32,301.69 432.51,301.8 434.7,301.91" fill="none" stroke="#2a3ae0" stroke-width="1" stroke-linejoin="round"/>
<polyline points="259.5,308.88 261.69,308.89 263.88,308.92 266.07,308.95 268.26,308.99 270.45,309.02 272.64,309.07 274.83,309.11 277.02,309.16 279.21,309.21 281.4,309.27 283.59,309.32 285.78,309.38 287.97,309.44 290.16,309.5 292.35,309.56 294.54,309.63 296.73,309.69 298.92,309.76 301.11,309.83 303.3,309.9 305.49,309.97 307.68,310.05 309.87,310.12 312.06,310.2 314.25,310.28 316.44,310.36 318.63,310.44 320.82,310.52 323.01,310.6 325.2,310.68 327.39,310.77 329.58,310.85 331.77,310.94 333.96,311.03 336.15,311.12 338.34,311.21 340.53,311.3 342.72,311.39 344.91,311.48 347.1,311.58 349.29,311.67 351.48,311.77 353.67,311.87 355.86,311.96 358.05,312.06 360.24,312.16 362.43,312.26 364.62,312.36 366.81,312.47 369,312.57 371.19,312.67 373.38,312.78 375.57,312.88 377.76,312.99 379.95,313.1 382.14,313.2 384.33,313.31 386.52,313.42 388.71,313.53 390.9,313.64 393.09,313.75 395.28,313.87 397.47,313.98 399.66,314.09 401.85,314.21 404.04,314.32 406.23,314.44 408.42,314.56 410.61,314.67 412.8,314.79 414.99,314.91 417.18,315.03 419.37,315.15 421.56,315.27 423.75,315.39 425.94,315.51 428.13,315.63 430.32,315.76 432.51,315.88 434.7,316.01" fill="none" stroke="#f03a3a" stroke-width="1" stroke-linejoin="round"/>
<polyline points="259.5,380.32 261.69,380.32 263.88,380.32 266.07,380.33 268.26,380.33 270.45,380.34 272.64,380.35 274.83,380.36 277.02,380.38 279.21,380.39 281.4,380.41 283.59,380.43 285.78,380.45 287.97,380.47 290.16,380.5 292.35,380.53 294.54,380.55 296.73,380.58 298.92,380.62 301.11,380.65 303.3,380.68 305.49,380.72 307.68,380.76 309.87,380.8 312.06,380.84 314.25,380.89 316.44,380.94 318.63,380.98 320.82,381.03 323.01,381.09 325.2,381.14 327.39,381.2 329.58,381.25 331.77,381.31 333.96,381.37 336.15,381.44 338.34,381.5 340.53,381.57 342.72,381.64 344.91,381.71 347.1,381.78 349.29,381.85 351.48,381.93 353.67,382 355.86,382.08 358.05,382.17 360.24,382.25 362.43,382.33 364.62,382.42 366.81,382.51 369,382.6 371.19,382.69 373.38,382.78 375.57,382.88 377.76,382.98 379.95,383.08 382.14,383.18 384.33,383.28 386.52,383.39 388.71,383.49 390.9,383.6 393.09,383.71 395.28,383.82 397.47,383.94 399.66,384.05 401.85,384.17 404.04,384.29 406.23,384.41 408.42,384.53 410.61,384.66 412.8,384.79 414.99,384.91 417.18,385.04 419.37,385.18 421.56,385.31 423.75,385.45 425.94,385.58 428.13,385.72 430.32,385.86 432.51,386.01 434.7,386.15" fill="none" stroke="#222" stroke-width="1" stroke-linejoin="round"/>
</g>
<rect x="259.5" y="221.5" width="175.2" height="165.7" fill="none" stroke="#1a1410" stroke-opacity="0.85" stroke-width="1.2"/>
<text x="254.8" y="390.2" font-size="9.4" fill="#111" text-anchor="end">0.0</text>
<line x1="259.5" y1="370.6" x2="261.3" y2="370.6" stroke="#222" stroke-width="1"/>
<line x1="259.5" y1="354.4" x2="262.7" y2="354.4" stroke="#222" stroke-width="1"/>
<text x="254.8" y="357.8" font-size="9.4" fill="#111" text-anchor="end">0.2</text>
<line x1="259.5" y1="338.2" x2="261.3" y2="338.2" stroke="#222" stroke-width="1"/>
<line x1="259.5" y1="322" x2="262.7" y2="322" stroke="#222" stroke-width="1"/>
<text x="254.8" y="325.4" font-size="9.4" fill="#111" text-anchor="end">0.4</text>
<line x1="259.5" y1="305.8" x2="261.3" y2="305.8" stroke="#222" stroke-width="1"/>
<line x1="259.5" y1="289.6" x2="262.7" y2="289.6" stroke="#222" stroke-width="1"/>
<text x="254.8" y="293" font-size="9.4" fill="#111" text-anchor="end">0.6</text>
<line x1="259.5" y1="273.4" x2="261.3" y2="273.4" stroke="#222" stroke-width="1"/>
<line x1="259.5" y1="257.2" x2="262.7" y2="257.2" stroke="#222" stroke-width="1"/>
<text x="254.8" y="260.6" font-size="9.4" fill="#111" text-anchor="end">0.8</text>
<line x1="259.5" y1="241" x2="261.3" y2="241" stroke="#222" stroke-width="1"/>
<line x1="259.5" y1="224.8" x2="262.7" y2="224.8" stroke="#222" stroke-width="1"/>
<text x="254.8" y="228.2" font-size="9.4" fill="#111" text-anchor="end">1.0</text>
<text x="259.5" y="398.8" font-size="9.4" fill="#111" text-anchor="middle">0</text>
<line x1="281.4" y1="387.2" x2="281.4" y2="385.4" stroke="#222" stroke-width="1"/>
<line x1="303.3" y1="387.2" x2="303.3" y2="384" stroke="#222" stroke-width="1"/>
<text x="303.3" y="398.8" font-size="9.4" fill="#111" text-anchor="middle">20</text>
<line x1="325.2" y1="387.2" x2="325.2" y2="385.4" stroke="#222" stroke-width="1"/>
<line x1="347.1" y1="387.2" x2="347.1" y2="384" stroke="#222" stroke-width="1"/>
<text x="347.1" y="398.8" font-size="9.4" fill="#111" text-anchor="middle">40</text>
<line x1="369" y1="387.2" x2="369" y2="385.4" stroke="#222" stroke-width="1"/>
<line x1="390.9" y1="387.2" x2="390.9" y2="384" stroke="#222" stroke-width="1"/>
<text x="390.9" y="398.8" font-size="9.4" fill="#111" text-anchor="middle">60</text>
<line x1="412.8" y1="387.2" x2="412.8" y2="385.4" stroke="#222" stroke-width="1"/>
<text x="434.7" y="398.8" font-size="9.4" fill="#111" text-anchor="middle">80</text>
<text x="280" y="244.7" font-size="9.05" fill="#1f8f86" text-anchor="start">Total phase shift</text>
<line x1="348.9" y1="241.1" x2="356.69" y2="234.77" stroke="#178078" stroke-width="1.2"/>
<polygon points="360.1,232 357.3,237.11 354.52,233.7" fill="#178078"/>
<text x="308.2" y="263.8" font-size="10" fill="#111" text-anchor="start">TE</text>
<text x="277.6" y="282.4" font-size="9.05" fill="#1a1af0" text-anchor="start">Propogation phase shift (2φ<tspan font-size="5.8" dy="2.2">p</tspan><tspan dy="-2.2">)</tspan></text>
<line x1="366.1" y1="286" x2="372.26" y2="294.18" stroke="#1a1ae0" stroke-width="1.2"/>
<polygon points="374.9,297.7 369.9,294.71 373.41,292.06" fill="#1a1ae0"/>
<text x="276.4" y="336" font-size="9.05" fill="#f02020" text-anchor="start">Reflection phase shift at bottom (φ<tspan font-size="5.8" dy="2.2">23</tspan><tspan dy="-2.2">)</tspan></text>
<line x1="339.2" y1="324.8" x2="345.22" y2="318.64" stroke="#f01818" stroke-width="1.2"/>
<polygon points="348.3,315.5 346.1,320.9 342.95,317.82" fill="#f01818"/>
<text x="275.8" y="368.3" font-size="9.05" fill="#111" text-anchor="start">Reflection phase shift at top (φ<tspan font-size="5.8" dy="2.2">12</tspan><tspan dy="-2.2">)</tspan></text>
<line x1="361" y1="371.4" x2="368.5" y2="377.78" stroke="#111" stroke-width="1.1"/>
<polygon points="371.7,380.5 366.38,378.73 369.1,375.53" fill="#111"/>
<text transform="translate(236.3,308.4) rotate(-90)" font-size="10" fill="#111" text-anchor="middle">Phase shift (π)</text>
<text x="241.2" y="412.4" font-size="14" fill="#000" text-anchor="start">(e)</text>
<text x="303.8" y="409.6" font-size="9.6" fill="#111" text-anchor="start">Incident angle (deg.)</text>
</g>
<g id="pf">
<rect x="500.3" y="221.5" width="155.1" height="165.7" fill="url(#fbg)"/>
<clipPath id="fclip"><rect x="500.3" y="221.5" width="179" height="165.7"/></clipPath><g clip-path="url(#fclip)">
<line x1="655.4" y1="221.5" x2="655.4" y2="387.2" stroke="#f79cf2" stroke-width="1.4" stroke-dasharray="1.8 1.7"/>
<polyline points="500.3,223.67 501.42,223.67 502.54,223.68 503.66,223.69 504.78,223.71 505.89,223.72 507.01,223.73 508.13,223.75 509.25,223.76 510.37,223.78 511.49,223.79 512.61,223.81 513.73,223.83 514.84,223.84 515.96,223.86 517.08,223.87 518.2,223.89 519.32,223.91 520.44,223.92 521.56,223.94 522.67,223.95 523.79,223.97 524.91,223.99 526.03,224.01 527.15,224.03 528.27,224.05 529.39,224.07 530.51,224.09 531.62,224.12 532.74,224.14 533.86,224.17 534.98,224.19 536.1,224.22 537.22,224.25 538.34,224.27 539.46,224.3 540.58,224.33 541.69,224.36 542.81,224.38 543.93,224.41 545.05,224.44 546.17,224.47 547.29,224.49 548.41,224.52 549.52,224.55 550.64,224.58 551.76,224.61 552.88,224.64 554,224.68 555.12,224.71 556.24,224.74 557.36,224.78 558.48,224.81 559.59,224.85 560.71,224.89 561.83,224.92 562.95,224.96 564.07,225 565.19,225.04 566.31,225.08 567.42,225.12 568.54,225.16 569.66,225.2 570.78,225.24 571.9,225.29 573.02,225.33 574.14,225.38 575.26,225.42 576.38,225.47 577.49,225.52 578.61,225.58 579.73,225.63 580.85,225.68 581.97,225.74 583.09,225.79 584.21,225.85 585.33,225.91 586.44,225.97 587.56,226.03 588.68,226.09 589.8,226.16 590.92,226.22 592.04,226.29 593.16,226.35 594.27,226.42 595.39,226.49 596.51,226.56 597.63,226.63 598.75,226.71 599.87,226.79 600.99,226.87 602.11,226.95 603.23,227.04 604.34,227.13 605.46,227.23 606.58,227.32 607.7,227.43 608.82,227.54 609.94,227.65 611.06,227.77 612.17,227.9 613.29,228.03 614.41,228.17 615.53,228.32 616.65,228.48 617.77,228.65 618.89,228.85 620.01,229.05 621.12,229.28 622.24,229.53 623.36,229.8 624.48,230.1 625.6,230.44 626.72,230.85 627.84,231.35 628.96,231.92 630.08,232.56 631.19,233.25 632.31,234 633.43,234.78 634.55,235.61 634.77,235.78 635,235.95 635.22,236.12 635.44,236.29 635.67,236.46 635.89,236.64 636.12,236.82 636.34,237.01 636.56,237.2 636.79,237.39 637.01,237.59 637.24,237.8 637.46,238.01 637.68,238.22 637.91,238.44 638.13,238.66 638.35,238.89 638.58,239.13 638.8,239.36 639.02,239.6 639.25,239.85 639.47,240.1 639.7,240.36 639.92,240.62 640.14,240.88 640.37,241.15 640.59,241.42 640.82,241.69 641.04,241.97 641.26,242.26 641.49,242.55 641.71,242.84 641.93,243.13 642.16,243.43 642.38,243.74 642.61,244.05 642.83,244.36 643.05,244.68 643.28,245.02 643.5,245.35 643.72,245.7 643.95,246.06 644.17,246.42 644.39,246.8 644.62,247.19 644.84,247.59 645.07,248 645.29,248.43 645.51,248.87 645.74,249.32 645.96,249.79 646.18,250.27 646.41,250.78 646.63,251.3 646.86,251.85 647.08,252.43 647.3,253.04 647.53,253.68 647.75,254.35 647.98,255.04 648.2,255.77 648.42,256.51 648.65,257.29 648.87,258.09 649.09,258.91 649.32,259.76 649.54,260.64 649.76,261.54 649.99,262.5 650.21,263.53 650.44,264.63 650.66,265.8 650.88,267.01 651.11,268.27 651.33,269.55 651.55,270.86 651.78,272.18 652,273.5 652.23,274.84 652.45,276.2 652.67,277.6 652.9,279.04 653.12,280.53 653.35,282.08 653.57,283.7 653.79,285.39 654.02,287.18 654.24,289.11 654.46,291.2 654.69,293.43 654.91,295.79 655.13,298.23 655.36,300.75 655.58,303.51 655.81,305.39 656.03,307.23 656.25,309.04 656.48,310.81 656.7,312.54 656.92,314.22 657.15,315.87 657.37,317.46 657.6,319.03 657.82,320.59 658.04,322.12 658.27,323.62 658.49,325.07 658.72,326.48 658.94,327.81 659.16,329.08 659.39,330.26 659.61,331.39 659.83,332.49 660.06,333.57 660.28,334.62 660.5,335.64 660.73,336.62 660.95,337.58 661.18,338.5 661.4,339.39 661.62,340.23 661.85,341.04 662.07,341.81 662.3,342.54 662.52,343.22 662.74,343.87 662.97,344.51 663.19,345.13 663.41,345.74 663.64,346.32 663.86,346.9 664.09,347.46 664.31,348 664.53,348.53 664.76,349.05 664.98,349.56 665.2,350.05 665.43,350.53 665.65,350.99 665.88,351.45 666.1,351.89 666.32,352.32 666.55,352.74 666.77,353.15 666.99,353.55 667.22,353.94 667.44,354.32 667.66,354.69 667.89,355.05 668.11,355.4 668.34,355.74 668.56,356.08 668.78,356.41 669.01,356.73 669.23,357.05 669.45,357.35 669.68,357.65 669.9,357.95 670.13,358.24 670.35,358.52 670.57,358.8 670.8,359.07 671.02,359.33 671.25,359.6 671.47,359.85 671.69,360.11 671.92,360.36 672.14,360.6 672.36,360.84 672.59,361.08 672.81,361.32 673.03,361.55 673.26,361.78 673.48,362.01 673.71,362.24 673.93,362.47 674.15,362.69 674.38,362.91 674.6,363.13 674.83,363.34 675.05,363.56 675.27,363.77 675.5,363.98 675.72,364.18 675.94,364.38 676.17,364.58 676.39,364.78 676.62,364.97 676.84,365.17 677.06,365.35 677.29,365.54 677.51,365.72 677.73,365.9 677.96,366.07 678.18,366.24 678.4,366.41 678.63,366.57 678.85,366.73 679.08,366.88 679.3,367.04" fill="none" stroke="#1f9088" stroke-width="1" stroke-linejoin="round"/>
<polyline points="500.3,308.88 501.42,308.88 502.54,308.87 503.66,308.86 504.78,308.85 505.89,308.84 507.01,308.83 508.13,308.82 509.25,308.8 510.37,308.79 511.49,308.77 512.61,308.75 513.73,308.73 514.84,308.71 515.96,308.69 517.08,308.67 518.2,308.65 519.32,308.62 520.44,308.6 521.56,308.57 522.67,308.55 523.79,308.52 524.91,308.49 526.03,308.47 527.15,308.44 528.27,308.41 529.39,308.38 530.51,308.35 531.62,308.31 532.74,308.28 533.86,308.25 534.98,308.21 536.1,308.18 537.22,308.14 538.34,308.11 539.46,308.07 540.58,308.03 541.69,308 542.81,307.96 543.93,307.92 545.05,307.88 546.17,307.84 547.29,307.8 548.41,307.76 549.52,307.72 550.64,307.67 551.76,307.63 552.88,307.59 554,307.54 555.12,307.5 556.24,307.45 557.36,307.41 558.48,307.36 559.59,307.31 560.71,307.26 561.83,307.22 562.95,307.17 564.07,307.12 565.19,307.07 566.31,307.02 567.42,306.97 568.54,306.92 569.66,306.87 570.78,306.81 571.9,306.76 573.02,306.71 574.14,306.65 575.26,306.6 576.38,306.54 577.49,306.49 578.61,306.43 579.73,306.38 580.85,306.32 581.97,306.26 583.09,306.21 584.21,306.15 585.33,306.09 586.44,306.03 587.56,305.97 588.68,305.91 589.8,305.85 590.92,305.79 592.04,305.73 593.16,305.67 594.27,305.61 595.39,305.54 596.51,305.48 597.63,305.42 598.75,305.35 599.87,305.29 600.99,305.22 602.11,305.16 603.23,305.09 604.34,305.03 605.46,304.96 606.58,304.89 607.7,304.83 608.82,304.76 609.94,304.69 611.06,304.62 612.17,304.55 613.29,304.48 614.41,304.41 615.53,304.34 616.65,304.27 617.77,304.2 618.89,304.13 620.01,304.06 621.12,303.99 622.24,303.91 623.36,303.84 624.48,303.77 625.6,303.69 626.72,303.62 627.84,303.55 628.96,303.47 630.08,303.39 631.19,303.32 632.31,303.24 633.43,303.17 634.55,303.09 634.77,303.07 635,303.06 635.22,303.04 635.44,303.03 635.67,303.01 635.89,303 636.12,302.98 636.34,302.97 636.56,302.95 636.79,302.93 637.01,302.92 637.24,302.9 637.46,302.89 637.68,302.87 637.91,302.86 638.13,302.84 638.35,302.82 638.58,302.81 638.8,302.79 639.02,302.78 639.25,302.76 639.47,302.75 639.7,302.73 639.92,302.71 640.14,302.7 640.37,302.68 640.59,302.67 640.82,302.65 641.04,302.63 641.26,302.62 641.49,302.6 641.71,302.59 641.93,302.57 642.16,302.56 642.38,302.54 642.61,302.52 642.83,302.51 643.05,302.49 643.28,302.48 643.5,302.46 643.72,302.44 643.95,302.43 644.17,302.41 644.39,302.4 644.62,302.38 644.84,302.36 645.07,302.35 645.29,302.33 645.51,302.31 645.74,302.3 645.96,302.28 646.18,302.27 646.41,302.25 646.63,302.23 646.86,302.22 647.08,302.2 647.3,302.18 647.53,302.17 647.75,302.15 647.98,302.14 648.2,302.12 648.42,302.1 648.65,302.09 648.87,302.07 649.09,302.05 649.32,302.04 649.54,302.02 649.76,302 649.99,301.99 650.21,301.97 650.44,301.95 650.66,301.94 650.88,301.92 651.11,301.91 651.33,301.89 651.55,301.87 651.78,301.86 652,301.84 652.23,301.82 652.45,301.81 652.67,301.79 652.9,301.77 653.12,301.76 653.35,301.74 653.57,301.72 653.79,301.71 654.02,301.69 654.24,301.67 654.46,301.66 654.69,301.64 654.91,301.62 655.13,301.6 655.36,301.59 655.58,301.59 655.81,301.59 656.03,301.59 656.25,301.59 656.48,301.59 656.7,301.59 656.92,301.59 657.15,301.59 657.37,301.59 657.6,301.59 657.82,301.59 658.04,301.59 658.27,301.59 658.49,301.59 658.72,301.59 658.94,301.59 659.16,301.59 659.39,301.59 659.61,301.59 659.83,301.59 660.06,301.59 660.28,301.59 660.5,301.59 660.73,301.59 660.95,301.59 661.18,301.59 661.4,301.59 661.62,301.59 661.85,301.59 662.07,301.59 662.3,301.59 662.52,301.59 662.74,301.59 662.97,301.59 663.19,301.59 663.41,301.59 663.64,301.59 663.86,301.59 664.09,301.59 664.31,301.59 664.53,301.59 664.76,301.59 664.98,301.59 665.2,301.59 665.43,301.59 665.65,301.59 665.88,301.59 666.1,301.59 666.32,301.59 666.55,301.59 666.77,301.59 666.99,301.59 667.22,301.59 667.44,301.59 667.66,301.59 667.89,301.59 668.11,301.59 668.34,301.59 668.56,301.59 668.78,301.59 669.01,301.59 669.23,301.59 669.45,301.59 669.68,301.59 669.9,301.59 670.13,301.59 670.35,301.59 670.57,301.59 670.8,301.59 671.02,301.59 671.25,301.59 671.47,301.59 671.69,301.59 671.92,301.59 672.14,301.59 672.36,301.59 672.59,301.59 672.81,301.59 673.03,301.59 673.26,301.59 673.48,301.59 673.71,301.59 673.93,301.59 674.15,301.59 674.38,301.59 674.6,301.59 674.83,301.59 675.05,301.59 675.27,301.59 675.5,301.59 675.72,301.59 675.94,301.59 676.17,301.59 676.39,301.59 676.62,301.59 676.84,301.59 677.06,301.59 677.29,301.59 677.51,301.59 677.73,301.59 677.96,301.59 678.18,301.59 678.4,301.59 678.63,301.59 678.85,301.59 679.08,301.59 679.3,301.59" fill="none" stroke="#f03a3a" stroke-width="1" stroke-linejoin="round"/>
<polyline points="500.3,295.11 501.42,295.12 502.54,295.13 503.66,295.15 504.78,295.16 505.89,295.18 507.01,295.2 508.13,295.22 509.25,295.25 510.37,295.27 511.49,295.29 512.61,295.32 513.73,295.34 514.84,295.37 515.96,295.39 517.08,295.42 518.2,295.45 519.32,295.48 520.44,295.51 521.56,295.53 522.67,295.56 523.79,295.59 524.91,295.62 526.03,295.65 527.15,295.69 528.27,295.72 529.39,295.75 530.51,295.78 531.62,295.81 532.74,295.85 533.86,295.88 534.98,295.91 536.1,295.95 537.22,295.98 538.34,296.02 539.46,296.05 540.58,296.09 541.69,296.12 542.81,296.16 543.93,296.19 545.05,296.23 546.17,296.27 547.29,296.3 548.41,296.34 549.52,296.38 550.64,296.42 551.76,296.45 552.88,296.49 554,296.53 555.12,296.57 556.24,296.61 557.36,296.65 558.48,296.69 559.59,296.73 560.71,296.77 561.83,296.81 562.95,296.85 564.07,296.89 565.19,296.93 566.31,296.97 567.42,297.01 568.54,297.05 569.66,297.09 570.78,297.13 571.9,297.18 573.02,297.22 574.14,297.26 575.26,297.3 576.38,297.35 577.49,297.39 578.61,297.43 579.73,297.47 580.85,297.52 581.97,297.56 583.09,297.6 584.21,297.65 585.33,297.69 586.44,297.74 587.56,297.78 588.68,297.83 589.8,297.87 590.92,297.92 592.04,297.96 593.16,298.01 594.27,298.05 595.39,298.1 596.51,298.14 597.63,298.19 598.75,298.24 599.87,298.28 600.99,298.33 602.11,298.38 603.23,298.42 604.34,298.47 605.46,298.52 606.58,298.56 607.7,298.61 608.82,298.66 609.94,298.71 611.06,298.75 612.17,298.8 613.29,298.85 614.41,298.9 615.53,298.95 616.65,298.99 617.77,299.04 618.89,299.09 620.01,299.14 621.12,299.19 622.24,299.24 623.36,299.29 624.48,299.34 625.6,299.39 626.72,299.44 627.84,299.49 628.96,299.54 630.08,299.59 631.19,299.64 632.31,299.69 633.43,299.74 634.55,299.79 634.77,299.8 635,299.81 635.22,299.82 635.44,299.83 635.67,299.84 635.89,299.85 636.12,299.86 636.34,299.87 636.56,299.88 636.79,299.89 637.01,299.9 637.24,299.91 637.46,299.92 637.68,299.93 637.91,299.94 638.13,299.95 638.35,299.96 638.58,299.97 638.8,299.98 639.02,299.99 639.25,300 639.47,300.01 639.7,300.02 639.92,300.03 640.14,300.04 640.37,300.05 640.59,300.06 640.82,300.08 641.04,300.09 641.26,300.1 641.49,300.11 641.71,300.12 641.93,300.13 642.16,300.14 642.38,300.15 642.61,300.16 642.83,300.17 643.05,300.18 643.28,300.19 643.5,300.2 643.72,300.21 643.95,300.22 644.17,300.23 644.39,300.24 644.62,300.25 644.84,300.26 645.07,300.27 645.29,300.28 645.51,300.29 645.74,300.3 645.96,300.31 646.18,300.32 646.41,300.33 646.63,300.34 646.86,300.35 647.08,300.36 647.3,300.38 647.53,300.39 647.75,300.4 647.98,300.41 648.2,300.42 648.42,300.43 648.65,300.44 648.87,300.45 649.09,300.46 649.32,300.47 649.54,300.48 649.76,300.49 649.99,300.5 650.21,300.51 650.44,300.52 650.66,300.53 650.88,300.54 651.11,300.55 651.33,300.56 651.55,300.57 651.78,300.58 652,300.6 652.23,300.61 652.45,300.62 652.67,300.63 652.9,300.64 653.12,300.65 653.35,300.66 653.57,300.67 653.79,300.68 654.02,300.69 654.24,300.7 654.46,300.71 654.69,300.72 654.91,300.73 655.13,300.74 655.36,300.75 655.58,300.76 655.81,300.77 656.03,300.79 656.25,300.8 656.48,300.81 656.7,300.82 656.92,300.83 657.15,300.84 657.37,300.85 657.6,300.86 657.82,300.87 658.04,300.88 658.27,300.89 658.49,300.9 658.72,300.91 658.94,300.92 659.16,300.93 659.39,300.94 659.61,300.96 659.83,300.97 660.06,300.98 660.28,300.99 660.5,301 660.73,301.01 660.95,301.02 661.18,301.03 661.4,301.04 661.62,301.05 661.85,301.06 662.07,301.07 662.3,301.08 662.52,301.09 662.74,301.11 662.97,301.12 663.19,301.13 663.41,301.14 663.64,301.15 663.86,301.16 664.09,301.17 664.31,301.18 664.53,301.19 664.76,301.2 664.98,301.21 665.2,301.22 665.43,301.23 665.65,301.25 665.88,301.26 666.1,301.27 666.32,301.28 666.55,301.29 666.77,301.3 666.99,301.31 667.22,301.32 667.44,301.33 667.66,301.34 667.89,301.35 668.11,301.36 668.34,301.38 668.56,301.39 668.78,301.4 669.01,301.41 669.23,301.42 669.45,301.43 669.68,301.44 669.9,301.45 670.13,301.46 670.35,301.47 670.57,301.48 670.8,301.49 671.02,301.51 671.25,301.52 671.47,301.53 671.69,301.54 671.92,301.55 672.14,301.56 672.36,301.57 672.59,301.58 672.81,301.59 673.03,301.6 673.26,301.61 673.48,301.63 673.71,301.64 673.93,301.65 674.15,301.66 674.38,301.67 674.6,301.68 674.83,301.69 675.05,301.7 675.27,301.71 675.5,301.72 675.72,301.74 675.94,301.75 676.17,301.76 676.39,301.77 676.62,301.78 676.84,301.79 677.06,301.8 677.29,301.81 677.51,301.82 677.73,301.83 677.96,301.85 678.18,301.86 678.4,301.87 678.63,301.88 678.85,301.89 679.08,301.9 679.3,301.91" fill="none" stroke="#2a3ae0" stroke-width="1" stroke-linejoin="round"/>
<polyline points="500.3,380.32 501.42,380.32 502.54,380.32 503.66,380.31 504.78,380.31 505.89,380.31 507.01,380.3 508.13,380.29 509.25,380.29 510.37,380.28 511.49,380.27 512.61,380.26 513.73,380.25 514.84,380.24 515.96,380.23 517.08,380.22 518.2,380.21 519.32,380.19 520.44,380.18 521.56,380.17 522.67,380.16 523.79,380.14 524.91,380.13 526.03,380.11 527.15,380.1 528.27,380.08 529.39,380.06 530.51,380.03 531.62,380.01 532.74,379.99 533.86,379.96 534.98,379.93 536.1,379.91 537.22,379.88 538.34,379.85 539.46,379.82 540.58,379.79 541.69,379.76 542.81,379.73 543.93,379.7 545.05,379.67 546.17,379.64 547.29,379.61 548.41,379.58 549.52,379.54 550.64,379.51 551.76,379.47 552.88,379.43 554,379.4 555.12,379.36 556.24,379.32 557.36,379.27 558.48,379.23 559.59,379.19 560.71,379.15 561.83,379.1 562.95,379.05 564.07,379.01 565.19,378.96 566.31,378.91 567.42,378.86 568.54,378.81 569.66,378.76 570.78,378.71 571.9,378.65 573.02,378.59 574.14,378.54 575.26,378.48 576.38,378.42 577.49,378.35 578.61,378.29 579.73,378.22 580.85,378.16 581.97,378.09 583.09,378.02 584.21,377.95 585.33,377.87 586.44,377.8 587.56,377.72 588.68,377.65 589.8,377.57 590.92,377.49 592.04,377.4 593.16,377.32 594.27,377.24 595.39,377.15 596.51,377.06 597.63,376.97 598.75,376.88 599.87,376.78 600.99,376.68 602.11,376.58 603.23,376.48 604.34,376.37 605.46,376.25 606.58,376.13 607.7,376.01 608.82,375.88 609.94,375.75 611.06,375.61 612.17,375.46 613.29,375.31 614.41,375.15 615.53,374.97 616.65,374.79 617.77,374.59 618.89,374.38 620.01,374.15 621.12,373.89 622.24,373.62 623.36,373.32 624.48,373 625.6,372.64 626.72,372.2 627.84,371.68 628.96,371.09 630.08,370.42 631.19,369.71 632.31,368.93 633.43,368.12 634.55,367.27 634.77,367.09 635,366.92 635.22,366.74 635.44,366.57 635.67,366.39 635.89,366.21 636.12,366.02 636.34,365.83 636.56,365.63 636.79,365.43 637.01,365.23 637.24,365.02 637.46,364.8 637.68,364.58 637.91,364.36 638.13,364.13 638.35,363.89 638.58,363.66 638.8,363.41 639.02,363.17 639.25,362.91 639.47,362.66 639.7,362.4 639.92,362.13 640.14,361.86 640.37,361.59 640.59,361.31 640.82,361.03 641.04,360.75 641.26,360.46 641.49,360.16 641.71,359.87 641.93,359.57 642.16,359.26 642.38,358.95 642.61,358.63 642.83,358.31 643.05,357.98 643.28,357.65 643.5,357.3 643.72,356.95 643.95,356.59 644.17,356.22 644.39,355.83 644.62,355.44 644.84,355.03 645.07,354.62 645.29,354.18 645.51,353.74 645.74,353.28 645.96,352.8 646.18,352.31 646.41,351.81 646.63,351.28 646.86,350.72 647.08,350.13 647.3,349.52 647.53,348.87 647.75,348.2 647.98,347.5 648.2,346.77 648.42,346.02 648.65,345.24 648.87,344.43 649.09,343.6 649.32,342.74 649.54,341.86 649.76,340.95 649.99,339.99 650.21,338.95 650.44,337.84 650.66,336.67 650.88,335.45 651.11,334.19 651.33,332.9 651.55,331.59 651.78,330.26 652,328.93 652.23,327.59 652.45,326.22 652.67,324.82 652.9,323.37 653.12,321.88 653.35,320.32 653.57,318.7 653.79,316.99 654.02,315.2 654.24,313.26 654.46,311.17 654.69,308.93 654.91,306.57 655.13,304.11 655.36,301.59 655.58,300.52 655.81,299.43 656.03,298.32 656.25,297.19 656.48,296.04 656.7,294.87 656.92,293.68 657.15,292.46 657.37,291.22 657.6,289.92 657.82,288.54 658.04,287.1 658.27,285.61 658.49,284.08 658.72,282.55 658.94,281.01 659.16,279.5 659.39,278.02 659.61,276.6 659.83,275.24 660.06,273.98 660.28,272.82 660.5,271.78 660.73,270.82 660.95,269.89 661.18,268.99 661.4,268.12 661.62,267.27 661.85,266.44 662.07,265.64 662.3,264.86 662.52,264.1 662.74,263.36 662.97,262.64 663.19,261.94 663.41,261.26 663.64,260.59 663.86,259.94 664.09,259.3 664.31,258.68 664.53,258.07 664.76,257.47 664.98,256.88 665.2,256.3 665.43,255.73 665.65,255.17 665.88,254.61 666.1,254.05 666.32,253.5 666.55,252.96 666.77,252.41 666.99,251.88 667.22,251.35 667.44,250.82 667.66,250.3 667.89,249.79 668.11,249.3 668.34,248.81 668.56,248.33 668.78,247.86 669.01,247.41 669.23,246.97 669.45,246.54 669.68,246.13 669.9,245.74 670.13,245.36 670.35,245 670.57,244.66 670.8,244.34 671.02,244.03 671.25,243.75 671.47,243.49 671.69,243.23 671.92,242.98 672.14,242.74 672.36,242.51 672.59,242.28 672.81,242.06 673.03,241.85 673.26,241.64 673.48,241.44 673.71,241.25 673.93,241.06 674.15,240.87 674.38,240.69 674.6,240.51 674.83,240.34 675.05,240.17 675.27,240 675.5,239.84 675.72,239.67 675.94,239.51 676.17,239.35 676.39,239.2 676.62,239.04 676.84,238.88 677.06,238.73 677.29,238.57 677.51,238.41 677.73,238.25 677.96,238.09 678.18,237.93 678.4,237.77 678.63,237.6 678.85,237.44 679.08,237.27 679.3,237.11" fill="none" stroke="#222" stroke-width="1" stroke-linejoin="round"/>
</g>
<rect x="500.3" y="221.5" width="179" height="165.7" fill="none" stroke="#1a1410" stroke-opacity="0.85" stroke-width="1.2"/>
<text x="495.7" y="390.2" font-size="9.4" fill="#111" text-anchor="end">0.0</text>
<line x1="500.3" y1="370.6" x2="502.1" y2="370.6" stroke="#222" stroke-width="1"/>
<line x1="500.3" y1="354.4" x2="503.5" y2="354.4" stroke="#222" stroke-width="1"/>
<text x="495.7" y="357.8" font-size="9.4" fill="#111" text-anchor="end">0.2</text>
<line x1="500.3" y1="338.2" x2="502.1" y2="338.2" stroke="#222" stroke-width="1"/>
<line x1="500.3" y1="322" x2="503.5" y2="322" stroke="#222" stroke-width="1"/>
<text x="495.7" y="325.4" font-size="9.4" fill="#111" text-anchor="end">0.4</text>
<line x1="500.3" y1="305.8" x2="502.1" y2="305.8" stroke="#222" stroke-width="1"/>
<line x1="500.3" y1="289.6" x2="503.5" y2="289.6" stroke="#222" stroke-width="1"/>
<text x="495.7" y="293" font-size="9.4" fill="#111" text-anchor="end">0.6</text>
<line x1="500.3" y1="273.4" x2="502.1" y2="273.4" stroke="#222" stroke-width="1"/>
<line x1="500.3" y1="257.2" x2="503.5" y2="257.2" stroke="#222" stroke-width="1"/>
<text x="495.7" y="260.6" font-size="9.4" fill="#111" text-anchor="end">0.8</text>
<line x1="500.3" y1="241" x2="502.1" y2="241" stroke="#222" stroke-width="1"/>
<line x1="500.3" y1="224.8" x2="503.5" y2="224.8" stroke="#222" stroke-width="1"/>
<text x="495.7" y="228.2" font-size="9.4" fill="#111" text-anchor="end">1.0</text>
<text x="500.3" y="398.8" font-size="9.4" fill="#111" text-anchor="middle">0</text>
<line x1="522.67" y1="387.2" x2="522.67" y2="385.4" stroke="#222" stroke-width="1"/>
<line x1="545.05" y1="387.2" x2="545.05" y2="384" stroke="#222" stroke-width="1"/>
<text x="545.05" y="398.8" font-size="9.4" fill="#111" text-anchor="middle">20</text>
<line x1="567.42" y1="387.2" x2="567.42" y2="385.4" stroke="#222" stroke-width="1"/>
<line x1="589.8" y1="387.2" x2="589.8" y2="384" stroke="#222" stroke-width="1"/>
<text x="589.8" y="398.8" font-size="9.4" fill="#111" text-anchor="middle">40</text>
<line x1="612.17" y1="387.2" x2="612.17" y2="385.4" stroke="#222" stroke-width="1"/>
<line x1="634.55" y1="387.2" x2="634.55" y2="384" stroke="#222" stroke-width="1"/>
<text x="634.55" y="398.8" font-size="9.4" fill="#111" text-anchor="middle">60</text>
<line x1="656.92" y1="387.2" x2="656.92" y2="385.4" stroke="#222" stroke-width="1"/>
<text x="679.3" y="398.8" font-size="9.4" fill="#111" text-anchor="middle">80</text>
<text x="516.4" y="238.7" font-size="9.05" fill="#1f8f86" text-anchor="start">Total phase shift</text>
<line x1="585.3" y1="235.1" x2="594.36" y2="231.8" stroke="#178078" stroke-width="1.2"/>
<polygon points="598.5,230.3 594.18,234.21 592.67,230.08" fill="#178078"/>
<text x="544.6" y="263.8" font-size="10" fill="#111" text-anchor="start">TM</text>
<text x="512.9" y="283.6" font-size="9.05" fill="#1a1af0" text-anchor="start">Propogation phase shift (2φ<tspan font-size="5.8" dy="2.2">p</tspan><tspan dy="-2.2">)</tspan></text>
<line x1="605.6" y1="286" x2="610.98" y2="293.69" stroke="#1a1ae0" stroke-width="1.2"/>
<polygon points="613.5,297.3 608.6,294.13 612.21,291.61" fill="#1a1ae0"/>
<text x="512.9" y="327.4" font-size="9.05" fill="#f02020" text-anchor="start">Reflection phase shift  (φ<tspan font-size="5.8" dy="2.2">23</tspan><tspan dy="-2.2">)</tspan></text>
<line x1="575.7" y1="318.9" x2="582.44" y2="312.36" stroke="#f01818" stroke-width="1.2"/>
<polygon points="585.6,309.3 583.25,314.64 580.19,311.48" fill="#f01818"/>
<text x="512.9" y="362.7" font-size="9.05" fill="#111" text-anchor="start">Reflection phase shift  (φ<tspan font-size="5.8" dy="2.2">12</tspan><tspan dy="-2.2">)</tspan></text>
<line x1="573.5" y1="366.9" x2="581.03" y2="373.44" stroke="#111" stroke-width="1.1"/>
<polygon points="584.2,376.2 578.9,374.37 581.65,371.2" fill="#111"/>
<text x="613.2" y="251.8" font-size="8.9" fill="#f818e8" text-anchor="middle">Brewster</text>
<text x="614.2" y="262.6" font-size="8.9" fill="#f818e8" text-anchor="middle">angle</text>
<line x1="634" y1="250" x2="649.59" y2="244.75" stroke="#f030e0" stroke-width="1"/>
<polygon points="653,243.6 649.18,246.68 648.1,243.46" fill="#f030e0"/>
<text transform="translate(476.6,308.4) rotate(-90)" font-size="10" fill="#111" text-anchor="middle">Phase shift (π)</text>
<text x="478" y="412.4" font-size="14" fill="#000" text-anchor="start">(f)</text>
<text x="545.3" y="409.6" font-size="9.6" fill="#111" text-anchor="start">Incident angle (deg.)</text>
</g>
</svg></body></html>
